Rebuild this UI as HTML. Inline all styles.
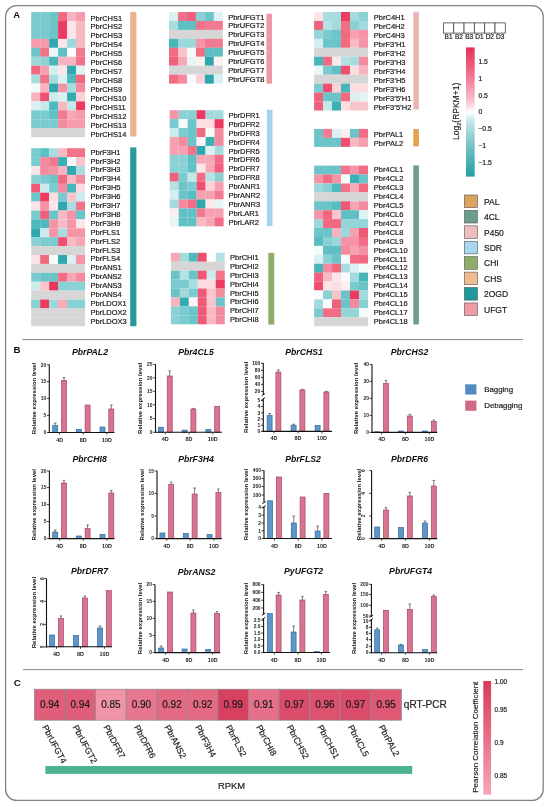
<!DOCTYPE html>
<html><head><meta charset="utf-8"><title>Figure</title><style>html,body{margin:0;padding:0;background:#fff;}body{width:550px;height:807px;overflow:hidden;font-family:"Liberation Sans", sans-serif;}svg{display:block;will-change:transform;}</style></head><body>
<svg width="550" height="807" viewBox="0 0 550 807" font-family='"Liberation Sans", sans-serif'>
<rect x="0" y="0" width="550" height="807" fill="#ffffff"/>
<rect x="5.6" y="5.6" width="537.6" height="794.8" rx="11" ry="11" fill="none" stroke="#838383" stroke-width="1.3"/>
<text x="13.2" y="17.9" font-size="9.4" font-weight="bold" fill="#111">A</text>
<rect x="31.2" y="12.1" width="9.02" height="8.98" fill="#7acbcf"/>
<rect x="40.17" y="12.1" width="9.02" height="8.98" fill="#7acbcf"/>
<rect x="49.14" y="12.1" width="9.02" height="8.98" fill="#6ac4c8"/>
<rect x="58.11" y="12.1" width="9.02" height="8.98" fill="#f2687f"/>
<rect x="67.08" y="12.1" width="9.02" height="8.98" fill="#f8b3bf"/>
<rect x="76.05" y="12.1" width="9.02" height="8.98" fill="#f69aac"/>
<text x="90.5" y="20.5" font-size="7.5" fill="#1a1a1a" stroke="#1a1a1a" stroke-width="0.2">PbrCHS1</text>
<rect x="31.2" y="21.03" width="9.02" height="8.98" fill="#7acbcf"/>
<rect x="40.17" y="21.03" width="9.02" height="8.98" fill="#7acbcf"/>
<rect x="49.14" y="21.03" width="9.02" height="8.98" fill="#6ac4c8"/>
<rect x="58.11" y="21.03" width="9.02" height="8.98" fill="#ec3a60"/>
<rect x="67.08" y="21.03" width="9.02" height="8.98" fill="#fde4e8"/>
<rect x="76.05" y="21.03" width="9.02" height="8.98" fill="#f8b9c3"/>
<text x="90.5" y="29.43" font-size="7.5" fill="#1a1a1a" stroke="#1a1a1a" stroke-width="0.2">PbrCHS2</text>
<rect x="31.2" y="29.96" width="9.02" height="8.98" fill="#7acbcf"/>
<rect x="40.17" y="29.96" width="9.02" height="8.98" fill="#7acbcf"/>
<rect x="49.14" y="29.96" width="9.02" height="8.98" fill="#6ac4c8"/>
<rect x="58.11" y="29.96" width="9.02" height="8.98" fill="#ec3a60"/>
<rect x="67.08" y="29.96" width="9.02" height="8.98" fill="#fde4e8"/>
<rect x="76.05" y="29.96" width="9.02" height="8.98" fill="#f8b9c3"/>
<text x="90.5" y="38.36" font-size="7.5" fill="#1a1a1a" stroke="#1a1a1a" stroke-width="0.2">PbrCHS3</text>
<rect x="31.2" y="38.89" width="9.02" height="8.98" fill="#f69aac"/>
<rect x="40.17" y="38.89" width="9.02" height="8.98" fill="#f69aac"/>
<rect x="49.14" y="38.89" width="9.02" height="8.98" fill="#2ea8ae"/>
<rect x="58.11" y="38.89" width="9.02" height="8.98" fill="#fde4e8"/>
<rect x="67.08" y="38.89" width="9.02" height="8.98" fill="#9cd7da"/>
<rect x="76.05" y="38.89" width="9.02" height="8.98" fill="#f8b9c3"/>
<text x="90.5" y="47.29" font-size="7.5" fill="#1a1a1a" stroke="#1a1a1a" stroke-width="0.2">PbrCHS4</text>
<rect x="31.2" y="47.82" width="9.02" height="8.98" fill="#6ac4c8"/>
<rect x="40.17" y="47.82" width="9.02" height="8.98" fill="#f2728a"/>
<rect x="49.14" y="47.82" width="9.02" height="8.98" fill="#eaf7f8"/>
<rect x="58.11" y="47.82" width="9.02" height="8.98" fill="#5ec0c5"/>
<rect x="67.08" y="47.82" width="9.02" height="8.98" fill="#fdfdfd"/>
<rect x="76.05" y="47.82" width="9.02" height="8.98" fill="#f27a90"/>
<text x="90.5" y="56.22" font-size="7.5" fill="#1a1a1a" stroke="#1a1a1a" stroke-width="0.2">PbrCHS5</text>
<rect x="31.2" y="56.75" width="9.02" height="8.98" fill="#9cd7da"/>
<rect x="40.17" y="56.75" width="9.02" height="8.98" fill="#8fd3d6"/>
<rect x="49.14" y="56.75" width="9.02" height="8.98" fill="#46b6bb"/>
<rect x="58.11" y="56.75" width="9.02" height="8.98" fill="#f8b3bf"/>
<rect x="67.08" y="56.75" width="9.02" height="8.98" fill="#f8b3bf"/>
<rect x="76.05" y="56.75" width="9.02" height="8.98" fill="#f2728a"/>
<text x="90.5" y="65.15" font-size="7.5" fill="#1a1a1a" stroke="#1a1a1a" stroke-width="0.2">PbrCHS6</text>
<rect x="31.2" y="65.68" width="9.02" height="8.98" fill="#f2687f"/>
<rect x="40.17" y="65.68" width="9.02" height="8.98" fill="#f6a0b0"/>
<rect x="49.14" y="65.68" width="9.02" height="8.98" fill="#d3eef0"/>
<rect x="58.11" y="65.68" width="9.02" height="8.98" fill="#fde4e8"/>
<rect x="67.08" y="65.68" width="9.02" height="8.98" fill="#2ea8ae"/>
<rect x="76.05" y="65.68" width="9.02" height="8.98" fill="#dff3f4"/>
<text x="90.5" y="74.08" font-size="7.5" fill="#1a1a1a" stroke="#1a1a1a" stroke-width="0.2">PbrCHS7</text>
<rect x="31.2" y="74.61" width="9.02" height="8.98" fill="#a8dde0"/>
<rect x="40.17" y="74.61" width="9.02" height="8.98" fill="#f2728a"/>
<rect x="49.14" y="74.61" width="9.02" height="8.98" fill="#a8dde0"/>
<rect x="58.11" y="74.61" width="9.02" height="8.98" fill="#daf0f1"/>
<rect x="67.08" y="74.61" width="9.02" height="8.98" fill="#4fb9be"/>
<rect x="76.05" y="74.61" width="9.02" height="8.98" fill="#f2687f"/>
<text x="90.5" y="83.01" font-size="7.5" fill="#1a1a1a" stroke="#1a1a1a" stroke-width="0.2">PbrCHS8</text>
<rect x="31.2" y="83.54" width="9.02" height="8.98" fill="#f5fbfb"/>
<rect x="40.17" y="83.54" width="9.02" height="8.98" fill="#f8b3bf"/>
<rect x="49.14" y="83.54" width="9.02" height="8.98" fill="#2ea8ae"/>
<rect x="58.11" y="83.54" width="9.02" height="8.98" fill="#f594a7"/>
<rect x="67.08" y="83.54" width="9.02" height="8.98" fill="#a8dde0"/>
<rect x="76.05" y="83.54" width="9.02" height="8.98" fill="#f38a9e"/>
<text x="90.5" y="91.94" font-size="7.5" fill="#1a1a1a" stroke="#1a1a1a" stroke-width="0.2">PbrCHS9</text>
<rect x="31.2" y="92.47" width="9.02" height="8.98" fill="#f8b3bf"/>
<rect x="40.17" y="92.47" width="9.02" height="8.98" fill="#ee4e70"/>
<rect x="49.14" y="92.47" width="9.02" height="8.98" fill="#cbebed"/>
<rect x="58.11" y="92.47" width="9.02" height="8.98" fill="#daf0f1"/>
<rect x="67.08" y="92.47" width="9.02" height="8.98" fill="#35acb1"/>
<rect x="76.05" y="92.47" width="9.02" height="8.98" fill="#fbd2d9"/>
<text x="90.5" y="100.87" font-size="7.5" fill="#1a1a1a" stroke="#1a1a1a" stroke-width="0.2">PbrCHS10</text>
<rect x="31.2" y="101.4" width="9.02" height="8.98" fill="#daf0f1"/>
<rect x="40.17" y="101.4" width="9.02" height="8.98" fill="#c7e8ea"/>
<rect x="49.14" y="101.4" width="9.02" height="8.98" fill="#4fb9be"/>
<rect x="58.11" y="101.4" width="9.02" height="8.98" fill="#f8b9c3"/>
<rect x="67.08" y="101.4" width="9.02" height="8.98" fill="#c7e8ea"/>
<rect x="76.05" y="101.4" width="9.02" height="8.98" fill="#ec3a60"/>
<text x="90.5" y="109.8" font-size="7.5" fill="#1a1a1a" stroke="#1a1a1a" stroke-width="0.2">PbrCHS11</text>
<rect x="31.2" y="110.33" width="9.02" height="8.98" fill="#7acbcf"/>
<rect x="40.17" y="110.33" width="9.02" height="8.98" fill="#7acbcf"/>
<rect x="49.14" y="110.33" width="9.02" height="8.98" fill="#5ec0c5"/>
<rect x="58.11" y="110.33" width="9.02" height="8.98" fill="#f27a90"/>
<rect x="67.08" y="110.33" width="9.02" height="8.98" fill="#f7a6b4"/>
<rect x="76.05" y="110.33" width="9.02" height="8.98" fill="#f69aac"/>
<text x="90.5" y="118.73" font-size="7.5" fill="#1a1a1a" stroke="#1a1a1a" stroke-width="0.2">PbrCHS12</text>
<rect x="31.2" y="119.26" width="9.02" height="8.98" fill="#7acbcf"/>
<rect x="40.17" y="119.26" width="9.02" height="8.98" fill="#7acbcf"/>
<rect x="49.14" y="119.26" width="9.02" height="8.98" fill="#7acbcf"/>
<rect x="58.11" y="119.26" width="9.02" height="8.98" fill="#f38a9e"/>
<rect x="67.08" y="119.26" width="9.02" height="8.98" fill="#f69aac"/>
<rect x="76.05" y="119.26" width="9.02" height="8.98" fill="#f69aac"/>
<text x="90.5" y="127.66" font-size="7.5" fill="#1a1a1a" stroke="#1a1a1a" stroke-width="0.2">PbrCHS13</text>
<rect x="31.2" y="128.19" width="53.82" height="8.98" fill="#d6d6d6"/>
<text x="90.5" y="136.59" font-size="7.5" fill="#1a1a1a" stroke="#1a1a1a" stroke-width="0.2">PbrCHS14</text>
<rect x="130.2" y="12" width="6.2" height="124.5" fill="#ebb48e"/>
<rect x="31.2" y="148.2" width="9.02" height="8.95" fill="#7acbcf"/>
<rect x="40.17" y="148.2" width="9.02" height="8.95" fill="#5ec0c5"/>
<rect x="49.14" y="148.2" width="9.02" height="8.95" fill="#a8dde0"/>
<rect x="58.11" y="148.2" width="9.02" height="8.95" fill="#f8b9c3"/>
<rect x="67.08" y="148.2" width="9.02" height="8.95" fill="#f2728a"/>
<rect x="76.05" y="148.2" width="9.02" height="8.95" fill="#f2728a"/>
<text x="90.5" y="154.6" font-size="7.5" fill="#1a1a1a" stroke="#1a1a1a" stroke-width="0.2">PbrF3H1</text>
<rect x="31.2" y="157.1" width="9.02" height="8.95" fill="#7acbcf"/>
<rect x="40.17" y="157.1" width="9.02" height="8.95" fill="#f38a9e"/>
<rect x="49.14" y="157.1" width="9.02" height="8.95" fill="#f27a90"/>
<rect x="58.11" y="157.1" width="9.02" height="8.95" fill="#3aafb4"/>
<rect x="67.08" y="157.1" width="9.02" height="8.95" fill="#f5fbfb"/>
<rect x="76.05" y="157.1" width="9.02" height="8.95" fill="#fac4cd"/>
<text x="90.5" y="163.5" font-size="7.5" fill="#1a1a1a" stroke="#1a1a1a" stroke-width="0.2">PbrF3H2</text>
<rect x="31.2" y="166" width="9.02" height="8.95" fill="#fde4e8"/>
<rect x="40.17" y="166" width="9.02" height="8.95" fill="#f38a9e"/>
<rect x="49.14" y="166" width="9.02" height="8.95" fill="#f594a7"/>
<rect x="58.11" y="166" width="9.02" height="8.95" fill="#f8b3bf"/>
<rect x="67.08" y="166" width="9.02" height="8.95" fill="#2ea8ae"/>
<rect x="76.05" y="166" width="9.02" height="8.95" fill="#a8dde0"/>
<text x="90.5" y="172.4" font-size="7.5" fill="#1a1a1a" stroke="#1a1a1a" stroke-width="0.2">PbrF3H3</text>
<rect x="31.2" y="174.9" width="9.02" height="8.95" fill="#8ad1d4"/>
<rect x="40.17" y="174.9" width="9.02" height="8.95" fill="#7acbcf"/>
<rect x="49.14" y="174.9" width="9.02" height="8.95" fill="#6ac4c8"/>
<rect x="58.11" y="174.9" width="9.02" height="8.95" fill="#f2687f"/>
<rect x="67.08" y="174.9" width="9.02" height="8.95" fill="#f8b9c3"/>
<rect x="76.05" y="174.9" width="9.02" height="8.95" fill="#f38a9e"/>
<text x="90.5" y="181.3" font-size="7.5" fill="#1a1a1a" stroke="#1a1a1a" stroke-width="0.2">PbrF3H4</text>
<rect x="31.2" y="183.8" width="9.02" height="8.95" fill="#f05877"/>
<rect x="40.17" y="183.8" width="9.02" height="8.95" fill="#cbebed"/>
<rect x="49.14" y="183.8" width="9.02" height="8.95" fill="#7acbcf"/>
<rect x="58.11" y="183.8" width="9.02" height="8.95" fill="#f38a9e"/>
<rect x="67.08" y="183.8" width="9.02" height="8.95" fill="#46b6bb"/>
<rect x="76.05" y="183.8" width="9.02" height="8.95" fill="#fcdbe0"/>
<text x="90.5" y="190.2" font-size="7.5" fill="#1a1a1a" stroke="#1a1a1a" stroke-width="0.2">PbrF3H5</text>
<rect x="31.2" y="192.7" width="9.02" height="8.95" fill="#6ac4c8"/>
<rect x="40.17" y="192.7" width="9.02" height="8.95" fill="#ec3a60"/>
<rect x="49.14" y="192.7" width="9.02" height="8.95" fill="#fcdde2"/>
<rect x="58.11" y="192.7" width="9.02" height="8.95" fill="#7acbcf"/>
<rect x="67.08" y="192.7" width="9.02" height="8.95" fill="#fac4cd"/>
<rect x="76.05" y="192.7" width="9.02" height="8.95" fill="#cbebed"/>
<text x="90.5" y="199.1" font-size="7.5" fill="#1a1a1a" stroke="#1a1a1a" stroke-width="0.2">PbrF3H6</text>
<rect x="31.2" y="201.6" width="9.02" height="8.95" fill="#fde4e8"/>
<rect x="40.17" y="201.6" width="9.02" height="8.95" fill="#f594a7"/>
<rect x="49.14" y="201.6" width="9.02" height="8.95" fill="#fde4e8"/>
<rect x="58.11" y="201.6" width="9.02" height="8.95" fill="#2ea8ae"/>
<rect x="67.08" y="201.6" width="9.02" height="8.95" fill="#a8dde0"/>
<rect x="76.05" y="201.6" width="9.02" height="8.95" fill="#f2728a"/>
<text x="90.5" y="208" font-size="7.5" fill="#1a1a1a" stroke="#1a1a1a" stroke-width="0.2">PbrF3H7</text>
<rect x="31.2" y="210.5" width="9.02" height="8.95" fill="#7acbcf"/>
<rect x="40.17" y="210.5" width="9.02" height="8.95" fill="#f0607c"/>
<rect x="49.14" y="210.5" width="9.02" height="8.95" fill="#6ac4c8"/>
<rect x="58.11" y="210.5" width="9.02" height="8.95" fill="#f8b9c3"/>
<rect x="67.08" y="210.5" width="9.02" height="8.95" fill="#f594a7"/>
<rect x="76.05" y="210.5" width="9.02" height="8.95" fill="#6ac4c8"/>
<text x="90.5" y="216.9" font-size="7.5" fill="#1a1a1a" stroke="#1a1a1a" stroke-width="0.2">PbrF3H8</text>
<rect x="31.2" y="219.4" width="9.02" height="8.95" fill="#4fb9be"/>
<rect x="40.17" y="219.4" width="9.02" height="8.95" fill="#4fb9be"/>
<rect x="49.14" y="219.4" width="9.02" height="8.95" fill="#f594a7"/>
<rect x="58.11" y="219.4" width="9.02" height="8.95" fill="#f8b9c3"/>
<rect x="67.08" y="219.4" width="9.02" height="8.95" fill="#f594a7"/>
<rect x="76.05" y="219.4" width="9.02" height="8.95" fill="#fde4e8"/>
<text x="90.5" y="225.8" font-size="7.5" fill="#1a1a1a" stroke="#1a1a1a" stroke-width="0.2">PbrF3H9</text>
<rect x="31.2" y="228.3" width="9.02" height="8.95" fill="#2ea8ae"/>
<rect x="40.17" y="228.3" width="9.02" height="8.95" fill="#cbebed"/>
<rect x="49.14" y="228.3" width="9.02" height="8.95" fill="#f594a7"/>
<rect x="58.11" y="228.3" width="9.02" height="8.95" fill="#a8dde0"/>
<rect x="67.08" y="228.3" width="9.02" height="8.95" fill="#f594a7"/>
<rect x="76.05" y="228.3" width="9.02" height="8.95" fill="#f594a7"/>
<text x="90.5" y="234.7" font-size="7.5" fill="#1a1a1a" stroke="#1a1a1a" stroke-width="0.2">PbrFLS1</text>
<rect x="31.2" y="237.2" width="9.02" height="8.95" fill="#8ad1d4"/>
<rect x="40.17" y="237.2" width="9.02" height="8.95" fill="#7acbcf"/>
<rect x="49.14" y="237.2" width="9.02" height="8.95" fill="#7acbcf"/>
<rect x="58.11" y="237.2" width="9.02" height="8.95" fill="#ee4e70"/>
<rect x="67.08" y="237.2" width="9.02" height="8.95" fill="#f8b9c3"/>
<rect x="76.05" y="237.2" width="9.02" height="8.95" fill="#f7a6b4"/>
<text x="90.5" y="243.6" font-size="7.5" fill="#1a1a1a" stroke="#1a1a1a" stroke-width="0.2">PbrFLS2</text>
<rect x="31.2" y="246.1" width="53.82" height="8.95" fill="#d6d6d6"/>
<text x="90.5" y="252.5" font-size="7.5" fill="#1a1a1a" stroke="#1a1a1a" stroke-width="0.2">PbrFLS3</text>
<rect x="31.2" y="255" width="9.02" height="8.95" fill="#fde4e8"/>
<rect x="40.17" y="255" width="9.02" height="8.95" fill="#f2687f"/>
<rect x="49.14" y="255" width="9.02" height="8.95" fill="#f5fbfb"/>
<rect x="58.11" y="255" width="9.02" height="8.95" fill="#2ea8ae"/>
<rect x="67.08" y="255" width="9.02" height="8.95" fill="#daf0f1"/>
<rect x="76.05" y="255" width="9.02" height="8.95" fill="#f594a7"/>
<text x="90.5" y="261.4" font-size="7.5" fill="#1a1a1a" stroke="#1a1a1a" stroke-width="0.2">PbrFLS4</text>
<rect x="31.2" y="263.9" width="53.82" height="8.95" fill="#d6d6d6"/>
<text x="90.5" y="270.3" font-size="7.5" fill="#1a1a1a" stroke="#1a1a1a" stroke-width="0.2">PbrANS1</text>
<rect x="31.2" y="272.8" width="9.02" height="8.95" fill="#7acbcf"/>
<rect x="40.17" y="272.8" width="9.02" height="8.95" fill="#6ac4c8"/>
<rect x="49.14" y="272.8" width="9.02" height="8.95" fill="#6ac4c8"/>
<rect x="58.11" y="272.8" width="9.02" height="8.95" fill="#f26c84"/>
<rect x="67.08" y="272.8" width="9.02" height="8.95" fill="#f7a6b4"/>
<rect x="76.05" y="272.8" width="9.02" height="8.95" fill="#f38a9e"/>
<text x="90.5" y="279.2" font-size="7.5" fill="#1a1a1a" stroke="#1a1a1a" stroke-width="0.2">PbrANS2</text>
<rect x="31.2" y="281.7" width="9.02" height="8.95" fill="#cbebed"/>
<rect x="40.17" y="281.7" width="9.02" height="8.95" fill="#fac4cd"/>
<rect x="49.14" y="281.7" width="9.02" height="8.95" fill="#ea3358"/>
<rect x="58.11" y="281.7" width="9.02" height="8.95" fill="#8ad1d4"/>
<rect x="67.08" y="281.7" width="9.02" height="8.95" fill="#8ad1d4"/>
<rect x="76.05" y="281.7" width="9.02" height="8.95" fill="#8ad1d4"/>
<text x="90.5" y="288.1" font-size="7.5" fill="#1a1a1a" stroke="#1a1a1a" stroke-width="0.2">PbrANS3</text>
<rect x="31.2" y="290.6" width="53.82" height="8.95" fill="#d6d6d6"/>
<text x="90.5" y="297" font-size="7.5" fill="#1a1a1a" stroke="#1a1a1a" stroke-width="0.2">PbrANS4</text>
<rect x="31.2" y="299.5" width="9.02" height="8.95" fill="#8ad1d4"/>
<rect x="40.17" y="299.5" width="9.02" height="8.95" fill="#ec3a60"/>
<rect x="49.14" y="299.5" width="9.02" height="8.95" fill="#9cd7da"/>
<rect x="58.11" y="299.5" width="9.02" height="8.95" fill="#f8aab6"/>
<rect x="67.08" y="299.5" width="9.02" height="8.95" fill="#8ad1d4"/>
<rect x="76.05" y="299.5" width="9.02" height="8.95" fill="#8ad1d4"/>
<text x="90.5" y="305.9" font-size="7.5" fill="#1a1a1a" stroke="#1a1a1a" stroke-width="0.2">PbrLDOX1</text>
<rect x="31.2" y="308.4" width="53.82" height="8.95" fill="#d6d6d6"/>
<text x="90.5" y="314.8" font-size="7.5" fill="#1a1a1a" stroke="#1a1a1a" stroke-width="0.2">PbrLDOX2</text>
<rect x="31.2" y="317.3" width="53.82" height="8.95" fill="#d6d6d6"/>
<text x="90.5" y="323.7" font-size="7.5" fill="#1a1a1a" stroke="#1a1a1a" stroke-width="0.2">PbrLDOX3</text>
<rect x="130.2" y="147.4" width="6.2" height="178.8" fill="#27999b"/>
<rect x="169" y="12" width="9.02" height="9" fill="#daf0f1"/>
<rect x="177.97" y="12" width="9.02" height="9" fill="#f2728a"/>
<rect x="186.94" y="12" width="9.02" height="9" fill="#f0607c"/>
<rect x="195.91" y="12" width="9.02" height="9" fill="#8ad1d4"/>
<rect x="204.88" y="12" width="9.02" height="9" fill="#6ac4c8"/>
<rect x="213.85" y="12" width="9.02" height="9" fill="#dff3f4"/>
<text x="228.2" y="19.5" font-size="7.5" fill="#1a1a1a" stroke="#1a1a1a" stroke-width="0.2">PbrUFGT1</text>
<rect x="169" y="20.95" width="9.02" height="9" fill="#a8dde0"/>
<rect x="177.97" y="20.95" width="9.02" height="9" fill="#5ec0c5"/>
<rect x="186.94" y="20.95" width="9.02" height="9" fill="#5ec0c5"/>
<rect x="195.91" y="20.95" width="9.02" height="9" fill="#f2728a"/>
<rect x="204.88" y="20.95" width="9.02" height="9" fill="#f27a90"/>
<rect x="213.85" y="20.95" width="9.02" height="9" fill="#f27a90"/>
<text x="228.2" y="28.45" font-size="7.5" fill="#1a1a1a" stroke="#1a1a1a" stroke-width="0.2">PbrUFGT2</text>
<rect x="169" y="29.9" width="53.82" height="9" fill="#d6d6d6"/>
<text x="228.2" y="37.4" font-size="7.5" fill="#1a1a1a" stroke="#1a1a1a" stroke-width="0.2">PbrUFGT3</text>
<rect x="169" y="38.85" width="9.02" height="9" fill="#46b6bb"/>
<rect x="177.97" y="38.85" width="9.02" height="9" fill="#9cd7da"/>
<rect x="186.94" y="38.85" width="9.02" height="9" fill="#9cd7da"/>
<rect x="195.91" y="38.85" width="9.02" height="9" fill="#f594a7"/>
<rect x="204.88" y="38.85" width="9.02" height="9" fill="#f27a90"/>
<rect x="213.85" y="38.85" width="9.02" height="9" fill="#f27a90"/>
<text x="228.2" y="46.35" font-size="7.5" fill="#1a1a1a" stroke="#1a1a1a" stroke-width="0.2">PbrUFGT4</text>
<rect x="169" y="47.8" width="9.02" height="9" fill="#f26c84"/>
<rect x="177.97" y="47.8" width="9.02" height="9" fill="#fac4cd"/>
<rect x="186.94" y="47.8" width="9.02" height="9" fill="#f5fbfb"/>
<rect x="195.91" y="47.8" width="9.02" height="9" fill="#f26c84"/>
<rect x="204.88" y="47.8" width="9.02" height="9" fill="#5ec0c5"/>
<rect x="213.85" y="47.8" width="9.02" height="9" fill="#5ec0c5"/>
<text x="228.2" y="55.3" font-size="7.5" fill="#1a1a1a" stroke="#1a1a1a" stroke-width="0.2">PbrUFGT5</text>
<rect x="169" y="56.75" width="9.02" height="9" fill="#f0607c"/>
<rect x="177.97" y="56.75" width="9.02" height="9" fill="#f7a6b4"/>
<rect x="186.94" y="56.75" width="9.02" height="9" fill="#e5f5f6"/>
<rect x="195.91" y="56.75" width="9.02" height="9" fill="#fdeef0"/>
<rect x="204.88" y="56.75" width="9.02" height="9" fill="#2ea8ae"/>
<rect x="213.85" y="56.75" width="9.02" height="9" fill="#fdf2f4"/>
<text x="228.2" y="64.25" font-size="7.5" fill="#1a1a1a" stroke="#1a1a1a" stroke-width="0.2">PbrUFGT6</text>
<rect x="169" y="65.7" width="53.82" height="9" fill="#d6d6d6"/>
<text x="228.2" y="73.2" font-size="7.5" fill="#1a1a1a" stroke="#1a1a1a" stroke-width="0.2">PbrUFGT7</text>
<rect x="169" y="74.65" width="9.02" height="9" fill="#f26c84"/>
<rect x="177.97" y="74.65" width="9.02" height="9" fill="#f38a9e"/>
<rect x="186.94" y="74.65" width="9.02" height="9" fill="#f5fbfb"/>
<rect x="195.91" y="74.65" width="9.02" height="9" fill="#fbd2d9"/>
<rect x="204.88" y="74.65" width="9.02" height="9" fill="#2ea8ae"/>
<rect x="213.85" y="74.65" width="9.02" height="9" fill="#daf0f1"/>
<text x="228.2" y="82.15" font-size="7.5" fill="#1a1a1a" stroke="#1a1a1a" stroke-width="0.2">PbrUFGT8</text>
<rect x="266.4" y="13.8" width="5.6" height="69.8" fill="#eb9aa4"/>
<rect x="169.7" y="110.2" width="9.02" height="8.98" fill="#f594a7"/>
<rect x="178.67" y="110.2" width="9.02" height="8.98" fill="#8ad1d4"/>
<rect x="187.64" y="110.2" width="9.02" height="8.98" fill="#8ad1d4"/>
<rect x="196.61" y="110.2" width="9.02" height="8.98" fill="#ec3a60"/>
<rect x="205.58" y="110.2" width="9.02" height="8.98" fill="#a3dadd"/>
<rect x="214.55" y="110.2" width="9.02" height="8.98" fill="#a3dadd"/>
<text x="228.4" y="117.8" font-size="7.5" fill="#1a1a1a" stroke="#1a1a1a" stroke-width="0.2">PbrDFR1</text>
<rect x="169.7" y="119.13" width="9.02" height="8.98" fill="#7acbcf"/>
<rect x="178.67" y="119.13" width="9.02" height="8.98" fill="#f5fbfb"/>
<rect x="187.64" y="119.13" width="9.02" height="8.98" fill="#6ac4c8"/>
<rect x="196.61" y="119.13" width="9.02" height="8.98" fill="#fcdde2"/>
<rect x="205.58" y="119.13" width="9.02" height="8.98" fill="#fcdde2"/>
<rect x="214.55" y="119.13" width="9.02" height="8.98" fill="#ec3a60"/>
<text x="228.4" y="126.73" font-size="7.5" fill="#1a1a1a" stroke="#1a1a1a" stroke-width="0.2">PbrDFR2</text>
<rect x="169.7" y="128.06" width="9.02" height="8.98" fill="#cbebed"/>
<rect x="178.67" y="128.06" width="9.02" height="8.98" fill="#7acbcf"/>
<rect x="187.64" y="128.06" width="9.02" height="8.98" fill="#6ac4c8"/>
<rect x="196.61" y="128.06" width="9.02" height="8.98" fill="#f2687f"/>
<rect x="205.58" y="128.06" width="9.02" height="8.98" fill="#f5fbfb"/>
<rect x="214.55" y="128.06" width="9.02" height="8.98" fill="#f38a9e"/>
<text x="228.4" y="135.66" font-size="7.5" fill="#1a1a1a" stroke="#1a1a1a" stroke-width="0.2">PbrDFR3</text>
<rect x="169.7" y="136.99" width="9.02" height="8.98" fill="#f6a0b0"/>
<rect x="178.67" y="136.99" width="9.02" height="8.98" fill="#f38a9e"/>
<rect x="187.64" y="136.99" width="9.02" height="8.98" fill="#6ac4c8"/>
<rect x="196.61" y="136.99" width="9.02" height="8.98" fill="#fdf2f4"/>
<rect x="205.58" y="136.99" width="9.02" height="8.98" fill="#3aafb4"/>
<rect x="214.55" y="136.99" width="9.02" height="8.98" fill="#f38a9e"/>
<text x="228.4" y="144.59" font-size="7.5" fill="#1a1a1a" stroke="#1a1a1a" stroke-width="0.2">PbrDFR4</text>
<rect x="169.7" y="145.92" width="9.02" height="8.98" fill="#f6a0b0"/>
<rect x="178.67" y="145.92" width="9.02" height="8.98" fill="#f6a0b0"/>
<rect x="187.64" y="145.92" width="9.02" height="8.98" fill="#f2728a"/>
<rect x="196.61" y="145.92" width="9.02" height="8.98" fill="#2ea8ae"/>
<rect x="205.58" y="145.92" width="9.02" height="8.98" fill="#daf0f1"/>
<rect x="214.55" y="145.92" width="9.02" height="8.98" fill="#a8dde0"/>
<text x="228.4" y="153.52" font-size="7.5" fill="#1a1a1a" stroke="#1a1a1a" stroke-width="0.2">PbrDFR5</text>
<rect x="169.7" y="154.85" width="9.02" height="8.98" fill="#8ad1d4"/>
<rect x="178.67" y="154.85" width="9.02" height="8.98" fill="#8ad1d4"/>
<rect x="187.64" y="154.85" width="9.02" height="8.98" fill="#5ec0c5"/>
<rect x="196.61" y="154.85" width="9.02" height="8.98" fill="#f7a6b4"/>
<rect x="205.58" y="154.85" width="9.02" height="8.98" fill="#f7a6b4"/>
<rect x="214.55" y="154.85" width="9.02" height="8.98" fill="#f26c84"/>
<text x="228.4" y="162.45" font-size="7.5" fill="#1a1a1a" stroke="#1a1a1a" stroke-width="0.2">PbrDFR6</text>
<rect x="169.7" y="163.78" width="9.02" height="8.98" fill="#8ad1d4"/>
<rect x="178.67" y="163.78" width="9.02" height="8.98" fill="#8ad1d4"/>
<rect x="187.64" y="163.78" width="9.02" height="8.98" fill="#5ec0c5"/>
<rect x="196.61" y="163.78" width="9.02" height="8.98" fill="#fde4e8"/>
<rect x="205.58" y="163.78" width="9.02" height="8.98" fill="#f7a6b4"/>
<rect x="214.55" y="163.78" width="9.02" height="8.98" fill="#f0607c"/>
<text x="228.4" y="171.38" font-size="7.5" fill="#1a1a1a" stroke="#1a1a1a" stroke-width="0.2">PbrDFR7</text>
<rect x="169.7" y="172.71" width="9.02" height="8.98" fill="#f0607c"/>
<rect x="178.67" y="172.71" width="9.02" height="8.98" fill="#7acbcf"/>
<rect x="187.64" y="172.71" width="9.02" height="8.98" fill="#c7e8ea"/>
<rect x="196.61" y="172.71" width="9.02" height="8.98" fill="#f26c84"/>
<rect x="205.58" y="172.71" width="9.02" height="8.98" fill="#b5e2e5"/>
<rect x="214.55" y="172.71" width="9.02" height="8.98" fill="#8ad1d4"/>
<text x="228.4" y="180.31" font-size="7.5" fill="#1a1a1a" stroke="#1a1a1a" stroke-width="0.2">PbrDFR8</text>
<rect x="169.7" y="181.64" width="9.02" height="8.98" fill="#b5e2e5"/>
<rect x="178.67" y="181.64" width="9.02" height="8.98" fill="#6ac4c8"/>
<rect x="187.64" y="181.64" width="9.02" height="8.98" fill="#7acbcf"/>
<rect x="196.61" y="181.64" width="9.02" height="8.98" fill="#ee4e70"/>
<rect x="205.58" y="181.64" width="9.02" height="8.98" fill="#fbd2d9"/>
<rect x="214.55" y="181.64" width="9.02" height="8.98" fill="#f6a0b0"/>
<text x="228.4" y="189.24" font-size="7.5" fill="#1a1a1a" stroke="#1a1a1a" stroke-width="0.2">PbrANR1</text>
<rect x="169.7" y="190.57" width="9.02" height="8.98" fill="#d3eef0"/>
<rect x="178.67" y="190.57" width="9.02" height="8.98" fill="#6ac4c8"/>
<rect x="187.64" y="190.57" width="9.02" height="8.98" fill="#58bdc2"/>
<rect x="196.61" y="190.57" width="9.02" height="8.98" fill="#f6a0b0"/>
<rect x="205.58" y="190.57" width="9.02" height="8.98" fill="#f6a0b0"/>
<rect x="214.55" y="190.57" width="9.02" height="8.98" fill="#f27a90"/>
<text x="228.4" y="198.17" font-size="7.5" fill="#1a1a1a" stroke="#1a1a1a" stroke-width="0.2">PbrANR2</text>
<rect x="169.7" y="199.5" width="9.02" height="8.98" fill="#a3dadd"/>
<rect x="178.67" y="199.5" width="9.02" height="8.98" fill="#f38a9e"/>
<rect x="187.64" y="199.5" width="9.02" height="8.98" fill="#f26c84"/>
<rect x="196.61" y="199.5" width="9.02" height="8.98" fill="#2ea8ae"/>
<rect x="205.58" y="199.5" width="9.02" height="8.98" fill="#fde8ec"/>
<rect x="214.55" y="199.5" width="9.02" height="8.98" fill="#e5f5f6"/>
<text x="228.4" y="207.1" font-size="7.5" fill="#1a1a1a" stroke="#1a1a1a" stroke-width="0.2">PbrANR3</text>
<rect x="169.7" y="208.43" width="9.02" height="8.98" fill="#fdeef0"/>
<rect x="178.67" y="208.43" width="9.02" height="8.98" fill="#5ec0c5"/>
<rect x="187.64" y="208.43" width="9.02" height="8.98" fill="#5ec0c5"/>
<rect x="196.61" y="208.43" width="9.02" height="8.98" fill="#f27a90"/>
<rect x="205.58" y="208.43" width="9.02" height="8.98" fill="#f6a0b0"/>
<rect x="214.55" y="208.43" width="9.02" height="8.98" fill="#f6a0b0"/>
<text x="228.4" y="216.03" font-size="7.5" fill="#1a1a1a" stroke="#1a1a1a" stroke-width="0.2">PbrLAR1</text>
<rect x="169.7" y="217.36" width="9.02" height="8.98" fill="#e5f5f6"/>
<rect x="178.67" y="217.36" width="9.02" height="8.98" fill="#5ec0c5"/>
<rect x="187.64" y="217.36" width="9.02" height="8.98" fill="#5ec0c5"/>
<rect x="196.61" y="217.36" width="9.02" height="8.98" fill="#f8b9c3"/>
<rect x="205.58" y="217.36" width="9.02" height="8.98" fill="#f7a6b4"/>
<rect x="214.55" y="217.36" width="9.02" height="8.98" fill="#f26c84"/>
<text x="228.4" y="224.96" font-size="7.5" fill="#1a1a1a" stroke="#1a1a1a" stroke-width="0.2">PbrLAR2</text>
<rect x="266.9" y="109.8" width="5.6" height="116.3" fill="#a4d2ec"/>
<rect x="170.9" y="252.8" width="9.02" height="8.98" fill="#f7a6b4"/>
<rect x="179.87" y="252.8" width="9.02" height="8.98" fill="#a3dadd"/>
<rect x="188.84" y="252.8" width="9.02" height="8.98" fill="#4fb9be"/>
<rect x="197.81" y="252.8" width="9.02" height="8.98" fill="#ee4e70"/>
<rect x="206.78" y="252.8" width="9.02" height="8.98" fill="#fdfdfd"/>
<rect x="215.75" y="252.8" width="9.02" height="8.98" fill="#b5e2e5"/>
<text x="230" y="259.8" font-size="7.5" fill="#1a1a1a" stroke="#1a1a1a" stroke-width="0.2">PbrCHI1</text>
<rect x="170.9" y="261.73" width="53.82" height="8.98" fill="#d6d6d6"/>
<text x="230" y="268.73" font-size="7.5" fill="#1a1a1a" stroke="#1a1a1a" stroke-width="0.2">PbrCHI2</text>
<rect x="170.9" y="270.66" width="9.02" height="8.98" fill="#6ac4c8"/>
<rect x="179.87" y="270.66" width="9.02" height="8.98" fill="#b5e2e5"/>
<rect x="188.84" y="270.66" width="9.02" height="8.98" fill="#6ac4c8"/>
<rect x="197.81" y="270.66" width="9.02" height="8.98" fill="#f05877"/>
<rect x="206.78" y="270.66" width="9.02" height="8.98" fill="#cbebed"/>
<rect x="215.75" y="270.66" width="9.02" height="8.98" fill="#f2728a"/>
<text x="230" y="277.66" font-size="7.5" fill="#1a1a1a" stroke="#1a1a1a" stroke-width="0.2">PbrCHI3</text>
<rect x="170.9" y="279.59" width="9.02" height="8.98" fill="#7acbcf"/>
<rect x="179.87" y="279.59" width="9.02" height="8.98" fill="#7acbcf"/>
<rect x="188.84" y="279.59" width="9.02" height="8.98" fill="#a8dde0"/>
<rect x="197.81" y="279.59" width="9.02" height="8.98" fill="#fcdbe0"/>
<rect x="206.78" y="279.59" width="9.02" height="8.98" fill="#fcdbe0"/>
<rect x="215.75" y="279.59" width="9.02" height="8.98" fill="#ec3a60"/>
<text x="230" y="286.59" font-size="7.5" fill="#1a1a1a" stroke="#1a1a1a" stroke-width="0.2">PbrCHI4</text>
<rect x="170.9" y="288.52" width="9.02" height="8.98" fill="#6ac4c8"/>
<rect x="179.87" y="288.52" width="9.02" height="8.98" fill="#a0d8dc"/>
<rect x="188.84" y="288.52" width="9.02" height="8.98" fill="#7acbcf"/>
<rect x="197.81" y="288.52" width="9.02" height="8.98" fill="#f05877"/>
<rect x="206.78" y="288.52" width="9.02" height="8.98" fill="#fac4cd"/>
<rect x="215.75" y="288.52" width="9.02" height="8.98" fill="#f38a9e"/>
<text x="230" y="295.52" font-size="7.5" fill="#1a1a1a" stroke="#1a1a1a" stroke-width="0.2">PbrCHI5</text>
<rect x="170.9" y="297.45" width="9.02" height="8.98" fill="#f8b3bf"/>
<rect x="179.87" y="297.45" width="9.02" height="8.98" fill="#35acb1"/>
<rect x="188.84" y="297.45" width="9.02" height="8.98" fill="#fdf2f4"/>
<rect x="197.81" y="297.45" width="9.02" height="8.98" fill="#f05877"/>
<rect x="206.78" y="297.45" width="9.02" height="8.98" fill="#fac4cd"/>
<rect x="215.75" y="297.45" width="9.02" height="8.98" fill="#6ac4c8"/>
<text x="230" y="304.45" font-size="7.5" fill="#1a1a1a" stroke="#1a1a1a" stroke-width="0.2">PbrCHI6</text>
<rect x="170.9" y="306.38" width="9.02" height="8.98" fill="#8ad1d4"/>
<rect x="179.87" y="306.38" width="9.02" height="8.98" fill="#7acbcf"/>
<rect x="188.84" y="306.38" width="9.02" height="8.98" fill="#6ac4c8"/>
<rect x="197.81" y="306.38" width="9.02" height="8.98" fill="#f05877"/>
<rect x="206.78" y="306.38" width="9.02" height="8.98" fill="#f8b9c3"/>
<rect x="215.75" y="306.38" width="9.02" height="8.98" fill="#f38a9e"/>
<text x="230" y="313.38" font-size="7.5" fill="#1a1a1a" stroke="#1a1a1a" stroke-width="0.2">PbrCHI7</text>
<rect x="170.9" y="315.31" width="9.02" height="8.98" fill="#8ad1d4"/>
<rect x="179.87" y="315.31" width="9.02" height="8.98" fill="#7acbcf"/>
<rect x="188.84" y="315.31" width="9.02" height="8.98" fill="#6ac4c8"/>
<rect x="197.81" y="315.31" width="9.02" height="8.98" fill="#f05877"/>
<rect x="206.78" y="315.31" width="9.02" height="8.98" fill="#f8b9c3"/>
<rect x="215.75" y="315.31" width="9.02" height="8.98" fill="#f38a9e"/>
<text x="230" y="322.31" font-size="7.5" fill="#1a1a1a" stroke="#1a1a1a" stroke-width="0.2">PbrCHI8</text>
<rect x="268.3" y="252.9" width="6" height="71.7" fill="#8fac6c"/>
<rect x="314.1" y="12" width="9.02" height="9" fill="#fde4e8"/>
<rect x="323.07" y="12" width="9.02" height="9" fill="#a8dde0"/>
<rect x="332.04" y="12" width="9.02" height="9" fill="#a8dde0"/>
<rect x="341.01" y="12" width="9.02" height="9" fill="#ec3a60"/>
<rect x="349.98" y="12" width="9.02" height="9" fill="#a3dadd"/>
<rect x="358.95" y="12" width="9.02" height="9" fill="#8ad1d4"/>
<text x="373.8" y="20" font-size="7.5" fill="#1a1a1a" stroke="#1a1a1a" stroke-width="0.2">PbrC4H1</text>
<rect x="314.1" y="20.95" width="9.02" height="9" fill="#f0607c"/>
<rect x="323.07" y="20.95" width="9.02" height="9" fill="#b5e2e5"/>
<rect x="332.04" y="20.95" width="9.02" height="9" fill="#a3dadd"/>
<rect x="341.01" y="20.95" width="9.02" height="9" fill="#f26c84"/>
<rect x="349.98" y="20.95" width="9.02" height="9" fill="#8ad1d4"/>
<rect x="358.95" y="20.95" width="9.02" height="9" fill="#a3dadd"/>
<text x="373.8" y="28.95" font-size="7.5" fill="#1a1a1a" stroke="#1a1a1a" stroke-width="0.2">PbrC4H2</text>
<rect x="314.1" y="29.9" width="9.02" height="9" fill="#94d5d8"/>
<rect x="323.07" y="29.9" width="9.02" height="9" fill="#7acbcf"/>
<rect x="332.04" y="29.9" width="9.02" height="9" fill="#6ac4c8"/>
<rect x="341.01" y="29.9" width="9.02" height="9" fill="#f2687f"/>
<rect x="349.98" y="29.9" width="9.02" height="9" fill="#f6a0b0"/>
<rect x="358.95" y="29.9" width="9.02" height="9" fill="#f594a7"/>
<text x="373.8" y="37.9" font-size="7.5" fill="#1a1a1a" stroke="#1a1a1a" stroke-width="0.2">PbrC4H3</text>
<rect x="314.1" y="38.85" width="9.02" height="9" fill="#d3eef0"/>
<rect x="323.07" y="38.85" width="9.02" height="9" fill="#6ac4c8"/>
<rect x="332.04" y="38.85" width="9.02" height="9" fill="#6ac4c8"/>
<rect x="341.01" y="38.85" width="9.02" height="9" fill="#f2687f"/>
<rect x="349.98" y="38.85" width="9.02" height="9" fill="#f8b9c3"/>
<rect x="358.95" y="38.85" width="9.02" height="9" fill="#f594a7"/>
<text x="373.8" y="46.85" font-size="7.5" fill="#1a1a1a" stroke="#1a1a1a" stroke-width="0.2">PbrF3&#8217;H1</text>
<rect x="314.1" y="47.8" width="53.82" height="9" fill="#d6d6d6"/>
<text x="373.8" y="55.8" font-size="7.5" fill="#1a1a1a" stroke="#1a1a1a" stroke-width="0.2">PbrF3&#8217;H2</text>
<rect x="314.1" y="56.75" width="9.02" height="9" fill="#46b6bb"/>
<rect x="323.07" y="56.75" width="9.02" height="9" fill="#f26c84"/>
<rect x="332.04" y="56.75" width="9.02" height="9" fill="#fde8ec"/>
<rect x="341.01" y="56.75" width="9.02" height="9" fill="#b5e2e5"/>
<rect x="349.98" y="56.75" width="9.02" height="9" fill="#a8dde0"/>
<rect x="358.95" y="56.75" width="9.02" height="9" fill="#f38a9e"/>
<text x="373.8" y="64.75" font-size="7.5" fill="#1a1a1a" stroke="#1a1a1a" stroke-width="0.2">PbrF3&#8217;H3</text>
<rect x="314.1" y="65.7" width="9.02" height="9" fill="#eaf7f8"/>
<rect x="323.07" y="65.7" width="9.02" height="9" fill="#7acbcf"/>
<rect x="332.04" y="65.7" width="9.02" height="9" fill="#5ec0c5"/>
<rect x="341.01" y="65.7" width="9.02" height="9" fill="#ee4e70"/>
<rect x="349.98" y="65.7" width="9.02" height="9" fill="#fcdde2"/>
<rect x="358.95" y="65.7" width="9.02" height="9" fill="#f8b3bf"/>
<text x="373.8" y="73.7" font-size="7.5" fill="#1a1a1a" stroke="#1a1a1a" stroke-width="0.2">PbrF3&#8217;H4</text>
<rect x="314.1" y="74.65" width="53.82" height="9" fill="#d6d6d6"/>
<text x="373.8" y="82.65" font-size="7.5" fill="#1a1a1a" stroke="#1a1a1a" stroke-width="0.2">PbrF3&#8217;H5</text>
<rect x="314.1" y="83.6" width="9.02" height="9" fill="#7acbcf"/>
<rect x="323.07" y="83.6" width="9.02" height="9" fill="#ee4e70"/>
<rect x="332.04" y="83.6" width="9.02" height="9" fill="#fbd2d9"/>
<rect x="341.01" y="83.6" width="9.02" height="9" fill="#46b6bb"/>
<rect x="349.98" y="83.6" width="9.02" height="9" fill="#fcdde2"/>
<rect x="358.95" y="83.6" width="9.02" height="9" fill="#fcdde2"/>
<text x="373.8" y="91.6" font-size="7.5" fill="#1a1a1a" stroke="#1a1a1a" stroke-width="0.2">PbrF3&#8217;H6</text>
<rect x="314.1" y="92.55" width="9.02" height="9" fill="#f0607c"/>
<rect x="323.07" y="92.55" width="9.02" height="9" fill="#6ac4c8"/>
<rect x="332.04" y="92.55" width="9.02" height="9" fill="#6ac4c8"/>
<rect x="341.01" y="92.55" width="9.02" height="9" fill="#f2687f"/>
<rect x="349.98" y="92.55" width="9.02" height="9" fill="#daf0f1"/>
<rect x="358.95" y="92.55" width="9.02" height="9" fill="#e5f5f6"/>
<text x="373.8" y="100.55" font-size="7.5" fill="#1a1a1a" stroke="#1a1a1a" stroke-width="0.2">PbrF3&#8217;5&#8217;H1</text>
<rect x="314.1" y="101.5" width="9.02" height="9" fill="#f0607c"/>
<rect x="323.07" y="101.5" width="9.02" height="9" fill="#c7e8ea"/>
<rect x="332.04" y="101.5" width="9.02" height="9" fill="#3aafb4"/>
<rect x="341.01" y="101.5" width="9.02" height="9" fill="#fcdde2"/>
<rect x="349.98" y="101.5" width="9.02" height="9" fill="#fac4cd"/>
<rect x="358.95" y="101.5" width="9.02" height="9" fill="#fac4cd"/>
<text x="373.8" y="109.5" font-size="7.5" fill="#1a1a1a" stroke="#1a1a1a" stroke-width="0.2">PbrF3&#8217;5&#8217;H2</text>
<rect x="413.3" y="11.8" width="5.6" height="97.7" fill="#eab5b3"/>
<rect x="314.1" y="128.9" width="9.02" height="9" fill="#6ac4c8"/>
<rect x="323.07" y="128.9" width="9.02" height="9" fill="#f27a90"/>
<rect x="332.04" y="128.9" width="9.02" height="9" fill="#daf0f1"/>
<rect x="341.01" y="128.9" width="9.02" height="9" fill="#fdeef0"/>
<rect x="349.98" y="128.9" width="9.02" height="9" fill="#6ac4c8"/>
<rect x="358.95" y="128.9" width="9.02" height="9" fill="#f26c84"/>
<text x="373.8" y="136.6" font-size="7.5" fill="#1a1a1a" stroke="#1a1a1a" stroke-width="0.2">PbrPAL1</text>
<rect x="314.1" y="137.85" width="9.02" height="9" fill="#6ac4c8"/>
<rect x="323.07" y="137.85" width="9.02" height="9" fill="#6ac4c8"/>
<rect x="332.04" y="137.85" width="9.02" height="9" fill="#6ac4c8"/>
<rect x="341.01" y="137.85" width="9.02" height="9" fill="#ee4e70"/>
<rect x="349.98" y="137.85" width="9.02" height="9" fill="#f8b9c3"/>
<rect x="358.95" y="137.85" width="9.02" height="9" fill="#f6a0b0"/>
<text x="373.8" y="145.55" font-size="7.5" fill="#1a1a1a" stroke="#1a1a1a" stroke-width="0.2">PbrPAL2</text>
<rect x="413.3" y="129.1" width="5.6" height="17.3" fill="#e3a24f"/>
<rect x="314.1" y="165.6" width="9.02" height="8.97" fill="#6ac4c8"/>
<rect x="323.07" y="165.6" width="9.02" height="8.97" fill="#6ac4c8"/>
<rect x="332.04" y="165.6" width="9.02" height="8.97" fill="#6ac4c8"/>
<rect x="341.01" y="165.6" width="9.02" height="8.97" fill="#f2728a"/>
<rect x="349.98" y="165.6" width="9.02" height="8.97" fill="#f594a7"/>
<rect x="358.95" y="165.6" width="9.02" height="8.97" fill="#f26c84"/>
<text x="373.8" y="172.3" font-size="7.5" fill="#1a1a1a" stroke="#1a1a1a" stroke-width="0.2">Pbr4CL1</text>
<rect x="314.1" y="174.52" width="9.02" height="8.97" fill="#f594a7"/>
<rect x="323.07" y="174.52" width="9.02" height="8.97" fill="#f26c84"/>
<rect x="332.04" y="174.52" width="9.02" height="8.97" fill="#f594a7"/>
<rect x="341.01" y="174.52" width="9.02" height="8.97" fill="#f9fcfc"/>
<rect x="349.98" y="174.52" width="9.02" height="8.97" fill="#3aafb4"/>
<rect x="358.95" y="174.52" width="9.02" height="8.97" fill="#6ac4c8"/>
<text x="373.8" y="181.22" font-size="7.5" fill="#1a1a1a" stroke="#1a1a1a" stroke-width="0.2">Pbr4CL2</text>
<rect x="314.1" y="183.44" width="9.02" height="8.97" fill="#9cd7da"/>
<rect x="323.07" y="183.44" width="9.02" height="8.97" fill="#8ad1d4"/>
<rect x="332.04" y="183.44" width="9.02" height="8.97" fill="#4fb9be"/>
<rect x="341.01" y="183.44" width="9.02" height="8.97" fill="#f2728a"/>
<rect x="349.98" y="183.44" width="9.02" height="8.97" fill="#f8aab6"/>
<rect x="358.95" y="183.44" width="9.02" height="8.97" fill="#f2687f"/>
<text x="373.8" y="190.14" font-size="7.5" fill="#1a1a1a" stroke="#1a1a1a" stroke-width="0.2">Pbr4CL3</text>
<rect x="314.1" y="192.36" width="53.82" height="8.97" fill="#d6d6d6"/>
<text x="373.8" y="199.06" font-size="7.5" fill="#1a1a1a" stroke="#1a1a1a" stroke-width="0.2">Pbr4CL4</text>
<rect x="314.1" y="201.28" width="9.02" height="8.97" fill="#6ac4c8"/>
<rect x="323.07" y="201.28" width="9.02" height="8.97" fill="#6ac4c8"/>
<rect x="332.04" y="201.28" width="9.02" height="8.97" fill="#58bdc2"/>
<rect x="341.01" y="201.28" width="9.02" height="8.97" fill="#f05877"/>
<rect x="349.98" y="201.28" width="9.02" height="8.97" fill="#f7a6b4"/>
<rect x="358.95" y="201.28" width="9.02" height="8.97" fill="#f38a9e"/>
<text x="373.8" y="207.98" font-size="7.5" fill="#1a1a1a" stroke="#1a1a1a" stroke-width="0.2">Pbr4CL5</text>
<rect x="314.1" y="210.2" width="9.02" height="8.97" fill="#f594a7"/>
<rect x="323.07" y="210.2" width="9.02" height="8.97" fill="#f2687f"/>
<rect x="332.04" y="210.2" width="9.02" height="8.97" fill="#fac4cd"/>
<rect x="341.01" y="210.2" width="9.02" height="8.97" fill="#5ec0c5"/>
<rect x="349.98" y="210.2" width="9.02" height="8.97" fill="#5ec0c5"/>
<rect x="358.95" y="210.2" width="9.02" height="8.97" fill="#dff3f4"/>
<text x="373.8" y="216.9" font-size="7.5" fill="#1a1a1a" stroke="#1a1a1a" stroke-width="0.2">Pbr4CL6</text>
<rect x="314.1" y="219.12" width="9.02" height="8.97" fill="#9cd7da"/>
<rect x="323.07" y="219.12" width="9.02" height="8.97" fill="#f2687f"/>
<rect x="332.04" y="219.12" width="9.02" height="8.97" fill="#f2687f"/>
<rect x="341.01" y="219.12" width="9.02" height="8.97" fill="#94d5d8"/>
<rect x="349.98" y="219.12" width="9.02" height="8.97" fill="#94d5d8"/>
<rect x="358.95" y="219.12" width="9.02" height="8.97" fill="#94d5d8"/>
<text x="373.8" y="225.82" font-size="7.5" fill="#1a1a1a" stroke="#1a1a1a" stroke-width="0.2">Pbr4CL7</text>
<rect x="314.1" y="228.04" width="9.02" height="8.97" fill="#6ac4c8"/>
<rect x="323.07" y="228.04" width="9.02" height="8.97" fill="#6ac4c8"/>
<rect x="332.04" y="228.04" width="9.02" height="8.97" fill="#f8b3bf"/>
<rect x="341.01" y="228.04" width="9.02" height="8.97" fill="#9cd7da"/>
<rect x="349.98" y="228.04" width="9.02" height="8.97" fill="#f6a0b0"/>
<rect x="358.95" y="228.04" width="9.02" height="8.97" fill="#f05877"/>
<text x="373.8" y="234.74" font-size="7.5" fill="#1a1a1a" stroke="#1a1a1a" stroke-width="0.2">Pbr4CL8</text>
<rect x="314.1" y="236.96" width="9.02" height="8.97" fill="#58bdc2"/>
<rect x="323.07" y="236.96" width="9.02" height="8.97" fill="#8ad1d4"/>
<rect x="332.04" y="236.96" width="9.02" height="8.97" fill="#9cd7da"/>
<rect x="341.01" y="236.96" width="9.02" height="8.97" fill="#f594a7"/>
<rect x="349.98" y="236.96" width="9.02" height="8.97" fill="#f594a7"/>
<rect x="358.95" y="236.96" width="9.02" height="8.97" fill="#f26c84"/>
<text x="373.8" y="243.66" font-size="7.5" fill="#1a1a1a" stroke="#1a1a1a" stroke-width="0.2">Pbr4CL9</text>
<rect x="314.1" y="245.88" width="9.02" height="8.97" fill="#f5fbfb"/>
<rect x="323.07" y="245.88" width="9.02" height="8.97" fill="#5ec0c5"/>
<rect x="332.04" y="245.88" width="9.02" height="8.97" fill="#5ec0c5"/>
<rect x="341.01" y="245.88" width="9.02" height="8.97" fill="#f38a9e"/>
<rect x="349.98" y="245.88" width="9.02" height="8.97" fill="#f6a0b0"/>
<rect x="358.95" y="245.88" width="9.02" height="8.97" fill="#f48fa2"/>
<text x="373.8" y="252.58" font-size="7.5" fill="#1a1a1a" stroke="#1a1a1a" stroke-width="0.2">Pbr4CL10</text>
<rect x="314.1" y="254.8" width="9.02" height="8.97" fill="#daf0f1"/>
<rect x="323.07" y="254.8" width="9.02" height="8.97" fill="#8ad1d4"/>
<rect x="332.04" y="254.8" width="9.02" height="8.97" fill="#6ac4c8"/>
<rect x="341.01" y="254.8" width="9.02" height="8.97" fill="#f5fbfb"/>
<rect x="349.98" y="254.8" width="9.02" height="8.97" fill="#f26c84"/>
<rect x="358.95" y="254.8" width="9.02" height="8.97" fill="#f2687f"/>
<text x="373.8" y="261.5" font-size="7.5" fill="#1a1a1a" stroke="#1a1a1a" stroke-width="0.2">Pbr4CL11</text>
<rect x="314.1" y="263.72" width="9.02" height="8.97" fill="#46b6bb"/>
<rect x="323.07" y="263.72" width="9.02" height="8.97" fill="#f38a9e"/>
<rect x="332.04" y="263.72" width="9.02" height="8.97" fill="#f2687f"/>
<rect x="341.01" y="263.72" width="9.02" height="8.97" fill="#a8dde0"/>
<rect x="349.98" y="263.72" width="9.02" height="8.97" fill="#daf0f1"/>
<rect x="358.95" y="263.72" width="9.02" height="8.97" fill="#f5fbfb"/>
<text x="373.8" y="270.42" font-size="7.5" fill="#1a1a1a" stroke="#1a1a1a" stroke-width="0.2">Pbr4CL12</text>
<rect x="314.1" y="272.64" width="9.02" height="8.97" fill="#f0607c"/>
<rect x="323.07" y="272.64" width="9.02" height="8.97" fill="#f8b9c3"/>
<rect x="332.04" y="272.64" width="9.02" height="8.97" fill="#fde4e8"/>
<rect x="341.01" y="272.64" width="9.02" height="8.97" fill="#f9fcfc"/>
<rect x="349.98" y="272.64" width="9.02" height="8.97" fill="#a3dadd"/>
<rect x="358.95" y="272.64" width="9.02" height="8.97" fill="#46b6bb"/>
<text x="373.8" y="279.34" font-size="7.5" fill="#1a1a1a" stroke="#1a1a1a" stroke-width="0.2">Pbr4CL13</text>
<rect x="314.1" y="281.56" width="9.02" height="8.97" fill="#ee4e70"/>
<rect x="323.07" y="281.56" width="9.02" height="8.97" fill="#fde4e8"/>
<rect x="332.04" y="281.56" width="9.02" height="8.97" fill="#fcdde2"/>
<rect x="341.01" y="281.56" width="9.02" height="8.97" fill="#fdeef0"/>
<rect x="349.98" y="281.56" width="9.02" height="8.97" fill="#7acbcf"/>
<rect x="358.95" y="281.56" width="9.02" height="8.97" fill="#6ac4c8"/>
<text x="373.8" y="288.26" font-size="7.5" fill="#1a1a1a" stroke="#1a1a1a" stroke-width="0.2">Pbr4CL14</text>
<rect x="314.1" y="290.48" width="9.02" height="8.97" fill="#f9fcfc"/>
<rect x="323.07" y="290.48" width="9.02" height="8.97" fill="#8ad1d4"/>
<rect x="332.04" y="290.48" width="9.02" height="8.97" fill="#fac4cd"/>
<rect x="341.01" y="290.48" width="9.02" height="8.97" fill="#6ac4c8"/>
<rect x="349.98" y="290.48" width="9.02" height="8.97" fill="#ec3a60"/>
<rect x="358.95" y="290.48" width="9.02" height="8.97" fill="#a3dadd"/>
<text x="373.8" y="297.18" font-size="7.5" fill="#1a1a1a" stroke="#1a1a1a" stroke-width="0.2">Pbr4CL15</text>
<rect x="314.1" y="299.4" width="9.02" height="8.97" fill="#a3dadd"/>
<rect x="323.07" y="299.4" width="9.02" height="8.97" fill="#f9fcfc"/>
<rect x="332.04" y="299.4" width="9.02" height="8.97" fill="#f0607c"/>
<rect x="341.01" y="299.4" width="9.02" height="8.97" fill="#6ac4c8"/>
<rect x="349.98" y="299.4" width="9.02" height="8.97" fill="#f38a9e"/>
<rect x="358.95" y="299.4" width="9.02" height="8.97" fill="#8ad1d4"/>
<text x="373.8" y="306.1" font-size="7.5" fill="#1a1a1a" stroke="#1a1a1a" stroke-width="0.2">Pbr4CL16</text>
<rect x="314.1" y="308.32" width="9.02" height="8.97" fill="#7acbcf"/>
<rect x="323.07" y="308.32" width="9.02" height="8.97" fill="#f26c84"/>
<rect x="332.04" y="308.32" width="9.02" height="8.97" fill="#f26c84"/>
<rect x="341.01" y="308.32" width="9.02" height="8.97" fill="#94d5d8"/>
<rect x="349.98" y="308.32" width="9.02" height="8.97" fill="#94d5d8"/>
<rect x="358.95" y="308.32" width="9.02" height="8.97" fill="#f5fbfb"/>
<text x="373.8" y="315.02" font-size="7.5" fill="#1a1a1a" stroke="#1a1a1a" stroke-width="0.2">Pbr4CL17</text>
<rect x="314.1" y="317.24" width="53.82" height="8.97" fill="#d6d6d6"/>
<text x="373.8" y="323.94" font-size="7.5" fill="#1a1a1a" stroke="#1a1a1a" stroke-width="0.2">Pbr4CL18</text>
<rect x="413.3" y="165.4" width="5.6" height="159" fill="#709d90"/>
<rect x="443.4" y="22.9" width="10.32" height="10.2" fill="#fff" stroke="#444" stroke-width="0.8"/>
<text x="448.56" y="38.5" font-size="6.5" text-anchor="middle" fill="#222" stroke="#222" stroke-width="0.2">B1</text>
<rect x="453.72" y="22.9" width="10.32" height="10.2" fill="#fff" stroke="#444" stroke-width="0.8"/>
<text x="458.88" y="38.5" font-size="6.5" text-anchor="middle" fill="#222" stroke="#222" stroke-width="0.2">B2</text>
<rect x="464.04" y="22.9" width="10.32" height="10.2" fill="#fff" stroke="#444" stroke-width="0.8"/>
<text x="469.2" y="38.5" font-size="6.5" text-anchor="middle" fill="#222" stroke="#222" stroke-width="0.2">B3</text>
<rect x="474.36" y="22.9" width="10.32" height="10.2" fill="#fff" stroke="#444" stroke-width="0.8"/>
<text x="479.52" y="38.5" font-size="6.5" text-anchor="middle" fill="#222" stroke="#222" stroke-width="0.2">D1</text>
<rect x="484.68" y="22.9" width="10.32" height="10.2" fill="#fff" stroke="#444" stroke-width="0.8"/>
<text x="489.84" y="38.5" font-size="6.5" text-anchor="middle" fill="#222" stroke="#222" stroke-width="0.2">D2</text>
<rect x="495" y="22.9" width="10.32" height="10.2" fill="#fff" stroke="#444" stroke-width="0.8"/>
<text x="500.16" y="38.5" font-size="6.5" text-anchor="middle" fill="#222" stroke="#222" stroke-width="0.2">D3</text>
<defs><linearGradient id="cbA" x1="0" y1="0" x2="0" y2="1"><stop offset="0" stop-color="#e8305a"/><stop offset="0.05" stop-color="#ea3f66"/><stop offset="0.1" stop-color="#eb4f72"/><stop offset="0.15" stop-color="#ed5f7f"/><stop offset="0.2" stop-color="#ef708d"/><stop offset="0.25" stop-color="#f1819b"/><stop offset="0.3" stop-color="#f394aa"/><stop offset="0.35" stop-color="#f5a8ba"/><stop offset="0.4" stop-color="#f8becb"/><stop offset="0.45" stop-color="#fbd8e0"/><stop offset="0.5" stop-color="#ffffff"/><stop offset="0.55" stop-color="#d5edee"/><stop offset="0.6" stop-color="#bae1e3"/><stop offset="0.65" stop-color="#a3d7d9"/><stop offset="0.7" stop-color="#8eced0"/><stop offset="0.75" stop-color="#7ac5c8"/><stop offset="0.8" stop-color="#67bdc1"/><stop offset="0.85" stop-color="#56b6b9"/><stop offset="0.9" stop-color="#45aeb2"/><stop offset="0.95" stop-color="#34a7ac"/><stop offset="1" stop-color="#24a0a5"/></linearGradient><linearGradient id="cbC" x1="0" y1="0" x2="0" y2="1"><stop offset="0" stop-color="#d83a5a"/><stop offset="1" stop-color="#f5a7b9"/></linearGradient></defs>
<rect x="466" y="47.4" width="8.7" height="129.2" fill="url(#cbA)"/>
<text x="478.4" y="64" font-size="6.8" fill="#222" stroke="#222" stroke-width="0.2">1.5</text>
<text x="478.4" y="80.9" font-size="6.8" fill="#222" stroke="#222" stroke-width="0.2">1</text>
<text x="478.4" y="97.7" font-size="6.8" fill="#222" stroke="#222" stroke-width="0.2">0.5</text>
<text x="478.4" y="114.2" font-size="6.8" fill="#222" stroke="#222" stroke-width="0.2">0</text>
<text x="478.4" y="131" font-size="6.8" fill="#222" stroke="#222" stroke-width="0.2">&#8722;0.5</text>
<text x="478.4" y="147.7" font-size="6.8" fill="#222" stroke="#222" stroke-width="0.2">&#8722;1</text>
<text x="478.4" y="164.7" font-size="6.8" fill="#222" stroke="#222" stroke-width="0.2">&#8722;1.5</text>
<text transform="translate(459.4,111.4) rotate(-90)" font-size="8.5" text-anchor="middle" fill="#222" stroke="#222" stroke-width="0.15">Log<tspan font-size="5.6" dy="2">2</tspan><tspan dy="-2">(RPKM+1)</tspan></text>
<rect x="464.4" y="195" width="13" height="12.6" fill="#dca35e" stroke="#555" stroke-width="0.6"/>
<text x="484" y="204.8" font-size="8.5" fill="#222" stroke="#222" stroke-width="0.2">PAL</text>
<rect x="464.4" y="210.42" width="13" height="12.6" fill="#6b9d8b" stroke="#555" stroke-width="0.6"/>
<text x="484" y="220.22" font-size="8.5" fill="#222" stroke="#222" stroke-width="0.2">4CL</text>
<rect x="464.4" y="225.84" width="13" height="12.6" fill="#f1bcbc" stroke="#555" stroke-width="0.6"/>
<text x="484" y="235.64" font-size="8.5" fill="#222" stroke="#222" stroke-width="0.2">P450</text>
<rect x="464.4" y="241.26" width="13" height="12.6" fill="#a8d8ef" stroke="#555" stroke-width="0.6"/>
<text x="484" y="251.06" font-size="8.5" fill="#222" stroke="#222" stroke-width="0.2">SDR</text>
<rect x="464.4" y="256.68" width="13" height="12.6" fill="#8fab6a" stroke="#555" stroke-width="0.6"/>
<text x="484" y="266.48" font-size="8.5" fill="#222" stroke="#222" stroke-width="0.2">CHI</text>
<rect x="464.4" y="272.1" width="13" height="12.6" fill="#efbb93" stroke="#555" stroke-width="0.6"/>
<text x="484" y="281.9" font-size="8.5" fill="#222" stroke="#222" stroke-width="0.2">CHS</text>
<rect x="464.4" y="287.52" width="13" height="12.6" fill="#1f9a9c" stroke="#555" stroke-width="0.6"/>
<text x="484" y="297.32" font-size="8.5" fill="#222" stroke="#222" stroke-width="0.2">2OGD</text>
<rect x="464.4" y="302.94" width="13" height="12.6" fill="#ee9ba2" stroke="#555" stroke-width="0.6"/>
<text x="484" y="312.74" font-size="8.5" fill="#222" stroke="#222" stroke-width="0.2">UFGT</text>
<line x1="22.5" y1="339.6" x2="523" y2="339.6" stroke="#8a8a8a" stroke-width="1"/>
<text x="13.6" y="352.9" font-size="9.8" font-weight="bold" fill="#111">B</text>
<text x="90" y="354.9" font-size="8.7" text-anchor="middle" font-weight="bold" font-style="italic" fill="#111">PbrPAL2</text>
<text transform="translate(35.9,398.45) rotate(-90)" font-size="6.0" font-weight="bold" text-anchor="middle" fill="#111">Relative expression level</text>
<line x1="55.2" y1="425.6" x2="55.2" y2="423" stroke="#444" stroke-width="0.7"/>
<line x1="53.9" y1="423" x2="56.5" y2="423" stroke="#444" stroke-width="0.7"/>
<line x1="64" y1="380.6" x2="64" y2="377.6" stroke="#444" stroke-width="0.7"/>
<line x1="62.7" y1="377.6" x2="65.3" y2="377.6" stroke="#444" stroke-width="0.7"/>
<rect x="52.7" y="425.6" width="5" height="6.9" fill="#5e96ca" stroke="#34689a" stroke-width="0.7"/>
<rect x="61.5" y="380.6" width="5" height="51.9" fill="#d97490" stroke="#a24760" stroke-width="0.7"/>
<rect x="76.3" y="429.4" width="5" height="3.1" fill="#5e96ca" stroke="#34689a" stroke-width="0.7"/>
<rect x="85.1" y="405" width="5" height="27.5" fill="#d97490" stroke="#a24760" stroke-width="0.7"/>
<line x1="111.3" y1="409" x2="111.3" y2="405" stroke="#444" stroke-width="0.7"/>
<line x1="110" y1="405" x2="112.6" y2="405" stroke="#444" stroke-width="0.7"/>
<rect x="100" y="427" width="5" height="5.5" fill="#5e96ca" stroke="#34689a" stroke-width="0.7"/>
<rect x="108.8" y="409" width="5" height="23.5" fill="#d97490" stroke="#a24760" stroke-width="0.7"/>
<line x1="49.3" y1="433" x2="49.3" y2="364.4" stroke="#111" stroke-width="1.1"/>
<line x1="48.75" y1="432.5" x2="114.4" y2="432.5" stroke="#111" stroke-width="1.1"/>
<line x1="46.9" y1="364.8" x2="49.3" y2="364.8" stroke="#111" stroke-width="0.8"/>
<text x="46.3" y="366.5" font-size="4.9" text-anchor="end" font-weight="bold" fill="#222">20</text>
<line x1="46.9" y1="381.6" x2="49.3" y2="381.6" stroke="#111" stroke-width="0.8"/>
<text x="46.3" y="383.3" font-size="4.9" text-anchor="end" font-weight="bold" fill="#222">15</text>
<line x1="46.9" y1="398.4" x2="49.3" y2="398.4" stroke="#111" stroke-width="0.8"/>
<text x="46.3" y="400.1" font-size="4.9" text-anchor="end" font-weight="bold" fill="#222">10</text>
<line x1="46.9" y1="415.4" x2="49.3" y2="415.4" stroke="#111" stroke-width="0.8"/>
<text x="46.3" y="417.1" font-size="4.9" text-anchor="end" font-weight="bold" fill="#222">5</text>
<line x1="46.9" y1="432.5" x2="49.3" y2="432.5" stroke="#111" stroke-width="0.8"/>
<text x="46.3" y="434.2" font-size="4.9" text-anchor="end" font-weight="bold" fill="#222">0</text>
<line x1="59.6" y1="432.5" x2="59.6" y2="434.5" stroke="#111" stroke-width="0.8"/>
<text x="59.6" y="441.5" font-size="5.4" text-anchor="middle" font-weight="bold" fill="#222">4D</text>
<line x1="83.2" y1="432.5" x2="83.2" y2="434.5" stroke="#111" stroke-width="0.8"/>
<text x="83.2" y="441.5" font-size="5.4" text-anchor="middle" font-weight="bold" fill="#222">8D</text>
<line x1="106.9" y1="432.5" x2="106.9" y2="434.5" stroke="#111" stroke-width="0.8"/>
<text x="106.9" y="441.5" font-size="5.4" text-anchor="middle" font-weight="bold" fill="#222">10D</text>
<text x="196" y="354.9" font-size="8.7" text-anchor="middle" font-weight="bold" font-style="italic" fill="#111">Pbr4CL5</text>
<text transform="translate(141.9,398.25) rotate(-90)" font-size="6.0" font-weight="bold" text-anchor="middle" fill="#111">Relative expression level</text>
<line x1="169.7" y1="376" x2="169.7" y2="370.9" stroke="#444" stroke-width="0.7"/>
<line x1="168.4" y1="370.9" x2="171" y2="370.9" stroke="#444" stroke-width="0.7"/>
<rect x="158.4" y="427.2" width="5" height="5.1" fill="#5e96ca" stroke="#34689a" stroke-width="0.7"/>
<rect x="167.2" y="376" width="5" height="56.3" fill="#d97490" stroke="#a24760" stroke-width="0.7"/>
<line x1="193.4" y1="409" x2="193.4" y2="408.4" stroke="#444" stroke-width="0.7"/>
<line x1="192.1" y1="408.4" x2="194.7" y2="408.4" stroke="#444" stroke-width="0.7"/>
<rect x="182.1" y="430.1" width="5" height="2.2" fill="#5e96ca" stroke="#34689a" stroke-width="0.7"/>
<rect x="190.9" y="409" width="5" height="23.3" fill="#d97490" stroke="#a24760" stroke-width="0.7"/>
<rect x="205.9" y="429.5" width="5" height="2.8" fill="#5e96ca" stroke="#34689a" stroke-width="0.7"/>
<rect x="214.7" y="406.3" width="5" height="26" fill="#d97490" stroke="#a24760" stroke-width="0.7"/>
<line x1="155.5" y1="432.8" x2="155.5" y2="364.2" stroke="#111" stroke-width="1.1"/>
<line x1="154.95" y1="432.3" x2="222" y2="432.3" stroke="#111" stroke-width="1.1"/>
<line x1="153.1" y1="364.4" x2="155.5" y2="364.4" stroke="#111" stroke-width="0.8"/>
<text x="152.5" y="366.1" font-size="4.9" text-anchor="end" font-weight="bold" fill="#222">25</text>
<line x1="153.1" y1="377.8" x2="155.5" y2="377.8" stroke="#111" stroke-width="0.8"/>
<text x="152.5" y="379.5" font-size="4.9" text-anchor="end" font-weight="bold" fill="#222">20</text>
<line x1="153.1" y1="391.3" x2="155.5" y2="391.3" stroke="#111" stroke-width="0.8"/>
<text x="152.5" y="393" font-size="4.9" text-anchor="end" font-weight="bold" fill="#222">15</text>
<line x1="153.1" y1="404.8" x2="155.5" y2="404.8" stroke="#111" stroke-width="0.8"/>
<text x="152.5" y="406.5" font-size="4.9" text-anchor="end" font-weight="bold" fill="#222">10</text>
<line x1="153.1" y1="418.5" x2="155.5" y2="418.5" stroke="#111" stroke-width="0.8"/>
<text x="152.5" y="420.2" font-size="4.9" text-anchor="end" font-weight="bold" fill="#222">5</text>
<line x1="153.1" y1="432.3" x2="155.5" y2="432.3" stroke="#111" stroke-width="0.8"/>
<text x="152.5" y="434" font-size="4.9" text-anchor="end" font-weight="bold" fill="#222">0</text>
<line x1="165.3" y1="432.3" x2="165.3" y2="434.3" stroke="#111" stroke-width="0.8"/>
<text x="165.3" y="441.3" font-size="5.4" text-anchor="middle" font-weight="bold" fill="#222">4D</text>
<line x1="189" y1="432.3" x2="189" y2="434.3" stroke="#111" stroke-width="0.8"/>
<text x="189" y="441.3" font-size="5.4" text-anchor="middle" font-weight="bold" fill="#222">8D</text>
<line x1="212.8" y1="432.3" x2="212.8" y2="434.3" stroke="#111" stroke-width="0.8"/>
<text x="212.8" y="441.3" font-size="5.4" text-anchor="middle" font-weight="bold" fill="#222">10D</text>
<text x="304" y="354.9" font-size="8.7" text-anchor="middle" font-weight="bold" font-style="italic" fill="#111">PbrCHS1</text>
<text transform="translate(247.7,397.25) rotate(-90)" font-size="6.0" font-weight="bold" text-anchor="middle" fill="#111">Relative expression level</text>
<line x1="269.6" y1="415.6" x2="269.6" y2="413.5" stroke="#444" stroke-width="0.7"/>
<line x1="268.3" y1="413.5" x2="270.9" y2="413.5" stroke="#444" stroke-width="0.7"/>
<line x1="278.4" y1="372.1" x2="278.4" y2="370" stroke="#444" stroke-width="0.7"/>
<line x1="277.1" y1="370" x2="279.7" y2="370" stroke="#444" stroke-width="0.7"/>
<rect x="267.1" y="415.6" width="5" height="15.8" fill="#5e96ca" stroke="#34689a" stroke-width="0.7"/>
<rect x="275.9" y="372.1" width="5" height="59.3" fill="#d97490" stroke="#a24760" stroke-width="0.7"/>
<line x1="293.6" y1="425.2" x2="293.6" y2="424.2" stroke="#444" stroke-width="0.7"/>
<line x1="292.3" y1="424.2" x2="294.9" y2="424.2" stroke="#444" stroke-width="0.7"/>
<line x1="302.4" y1="390" x2="302.4" y2="389.4" stroke="#444" stroke-width="0.7"/>
<line x1="301.1" y1="389.4" x2="303.7" y2="389.4" stroke="#444" stroke-width="0.7"/>
<rect x="291.1" y="425.2" width="5" height="6.2" fill="#5e96ca" stroke="#34689a" stroke-width="0.7"/>
<rect x="299.9" y="390" width="5" height="41.4" fill="#d97490" stroke="#a24760" stroke-width="0.7"/>
<line x1="326.4" y1="392" x2="326.4" y2="391.4" stroke="#444" stroke-width="0.7"/>
<line x1="325.1" y1="391.4" x2="327.7" y2="391.4" stroke="#444" stroke-width="0.7"/>
<rect x="315.1" y="425.6" width="5" height="5.8" fill="#5e96ca" stroke="#34689a" stroke-width="0.7"/>
<rect x="323.9" y="392" width="5" height="39.4" fill="#d97490" stroke="#a24760" stroke-width="0.7"/>
<line x1="263.3" y1="431.9" x2="263.3" y2="398.8" stroke="#111" stroke-width="1.1"/>
<line x1="263.3" y1="395.1" x2="263.3" y2="363.1" stroke="#111" stroke-width="1.1"/>
<line x1="261.5" y1="400" x2="265.1" y2="397.6" stroke="#111" stroke-width="0.9"/>
<line x1="261.5" y1="395.8" x2="265.1" y2="393.4" stroke="#111" stroke-width="0.9"/>
<line x1="262.75" y1="431.4" x2="332" y2="431.4" stroke="#111" stroke-width="1.1"/>
<line x1="260.9" y1="363.3" x2="263.3" y2="363.3" stroke="#111" stroke-width="0.8"/>
<text x="260.3" y="365" font-size="4.9" text-anchor="end" font-weight="bold" fill="#222">100</text>
<line x1="260.9" y1="370.4" x2="263.3" y2="370.4" stroke="#111" stroke-width="0.8"/>
<text x="260.3" y="372.1" font-size="4.9" text-anchor="end" font-weight="bold" fill="#222">80</text>
<line x1="260.9" y1="377.4" x2="263.3" y2="377.4" stroke="#111" stroke-width="0.8"/>
<text x="260.3" y="379.1" font-size="4.9" text-anchor="end" font-weight="bold" fill="#222">60</text>
<line x1="260.9" y1="384.4" x2="263.3" y2="384.4" stroke="#111" stroke-width="0.8"/>
<text x="260.3" y="386.1" font-size="4.9" text-anchor="end" font-weight="bold" fill="#222">40</text>
<line x1="260.9" y1="391.4" x2="263.3" y2="391.4" stroke="#111" stroke-width="0.8"/>
<text x="260.3" y="393.1" font-size="4.9" text-anchor="end" font-weight="bold" fill="#222">20</text>
<line x1="260.9" y1="400.5" x2="263.3" y2="400.5" stroke="#111" stroke-width="0.8"/>
<text x="260.3" y="402.2" font-size="4.9" text-anchor="end" font-weight="bold" fill="#222">5</text>
<line x1="260.9" y1="406.6" x2="263.3" y2="406.6" stroke="#111" stroke-width="0.8"/>
<text x="260.3" y="408.3" font-size="4.9" text-anchor="end" font-weight="bold" fill="#222">4</text>
<line x1="260.9" y1="412.8" x2="263.3" y2="412.8" stroke="#111" stroke-width="0.8"/>
<text x="260.3" y="414.5" font-size="4.9" text-anchor="end" font-weight="bold" fill="#222">3</text>
<line x1="260.9" y1="419" x2="263.3" y2="419" stroke="#111" stroke-width="0.8"/>
<text x="260.3" y="420.7" font-size="4.9" text-anchor="end" font-weight="bold" fill="#222">2</text>
<line x1="260.9" y1="425.2" x2="263.3" y2="425.2" stroke="#111" stroke-width="0.8"/>
<text x="260.3" y="426.9" font-size="4.9" text-anchor="end" font-weight="bold" fill="#222">1</text>
<line x1="260.9" y1="431.4" x2="263.3" y2="431.4" stroke="#111" stroke-width="0.8"/>
<text x="260.3" y="433.1" font-size="4.9" text-anchor="end" font-weight="bold" fill="#222">0</text>
<line x1="274" y1="431.4" x2="274" y2="433.4" stroke="#111" stroke-width="0.8"/>
<text x="274" y="440.4" font-size="5.4" text-anchor="middle" font-weight="bold" fill="#222">4D</text>
<line x1="298" y1="431.4" x2="298" y2="433.4" stroke="#111" stroke-width="0.8"/>
<text x="298" y="440.4" font-size="5.4" text-anchor="middle" font-weight="bold" fill="#222">8D</text>
<line x1="322" y1="431.4" x2="322" y2="433.4" stroke="#111" stroke-width="0.8"/>
<text x="322" y="440.4" font-size="5.4" text-anchor="middle" font-weight="bold" fill="#222">10D</text>
<text x="409.6" y="354.9" font-size="8.7" text-anchor="middle" font-weight="bold" font-style="italic" fill="#111">PbrCHS2</text>
<text transform="translate(357.7,398.3) rotate(-90)" font-size="6.0" font-weight="bold" text-anchor="middle" fill="#111">Relative expression level</text>
<line x1="386" y1="383.6" x2="386" y2="380.6" stroke="#444" stroke-width="0.7"/>
<line x1="384.7" y1="380.6" x2="387.3" y2="380.6" stroke="#444" stroke-width="0.7"/>
<rect x="374.7" y="431.8" width="5" height="0.6" fill="#5e96ca" stroke="#34689a" stroke-width="0.7"/>
<rect x="383.5" y="383.6" width="5" height="48.8" fill="#d97490" stroke="#a24760" stroke-width="0.7"/>
<line x1="409.8" y1="416" x2="409.8" y2="414.4" stroke="#444" stroke-width="0.7"/>
<line x1="408.5" y1="414.4" x2="411.1" y2="414.4" stroke="#444" stroke-width="0.7"/>
<rect x="398.5" y="431" width="5" height="1.4" fill="#5e96ca" stroke="#34689a" stroke-width="0.7"/>
<rect x="407.3" y="416" width="5" height="16.4" fill="#d97490" stroke="#a24760" stroke-width="0.7"/>
<line x1="433.8" y1="421.4" x2="433.8" y2="420" stroke="#444" stroke-width="0.7"/>
<line x1="432.5" y1="420" x2="435.1" y2="420" stroke="#444" stroke-width="0.7"/>
<rect x="422.5" y="431" width="5" height="1.4" fill="#5e96ca" stroke="#34689a" stroke-width="0.7"/>
<rect x="431.3" y="421.4" width="5" height="11" fill="#d97490" stroke="#a24760" stroke-width="0.7"/>
<line x1="372" y1="432.9" x2="372" y2="364.2" stroke="#111" stroke-width="1.1"/>
<line x1="371.45" y1="432.4" x2="437.2" y2="432.4" stroke="#111" stroke-width="1.1"/>
<line x1="369.6" y1="364.4" x2="372" y2="364.4" stroke="#111" stroke-width="0.8"/>
<text x="369" y="366.1" font-size="4.9" text-anchor="end" font-weight="bold" fill="#222">40</text>
<line x1="369.6" y1="381.4" x2="372" y2="381.4" stroke="#111" stroke-width="0.8"/>
<text x="369" y="383.1" font-size="4.9" text-anchor="end" font-weight="bold" fill="#222">30</text>
<line x1="369.6" y1="398.4" x2="372" y2="398.4" stroke="#111" stroke-width="0.8"/>
<text x="369" y="400.1" font-size="4.9" text-anchor="end" font-weight="bold" fill="#222">20</text>
<line x1="369.6" y1="415.4" x2="372" y2="415.4" stroke="#111" stroke-width="0.8"/>
<text x="369" y="417.1" font-size="4.9" text-anchor="end" font-weight="bold" fill="#222">10</text>
<line x1="369.6" y1="432.4" x2="372" y2="432.4" stroke="#111" stroke-width="0.8"/>
<text x="369" y="434.1" font-size="4.9" text-anchor="end" font-weight="bold" fill="#222">0</text>
<line x1="381.6" y1="432.4" x2="381.6" y2="434.4" stroke="#111" stroke-width="0.8"/>
<text x="381.6" y="441.4" font-size="5.4" text-anchor="middle" font-weight="bold" fill="#222">4D</text>
<line x1="405.4" y1="432.4" x2="405.4" y2="434.4" stroke="#111" stroke-width="0.8"/>
<text x="405.4" y="441.4" font-size="5.4" text-anchor="middle" font-weight="bold" fill="#222">8D</text>
<line x1="429.4" y1="432.4" x2="429.4" y2="434.4" stroke="#111" stroke-width="0.8"/>
<text x="429.4" y="441.4" font-size="5.4" text-anchor="middle" font-weight="bold" fill="#222">10D</text>
<text x="89.6" y="461.9" font-size="8.7" text-anchor="middle" font-weight="bold" font-style="italic" fill="#111">PbrCHI8</text>
<text transform="translate(35.9,504.7) rotate(-90)" font-size="6.0" font-weight="bold" text-anchor="middle" fill="#111">Relative expression level</text>
<line x1="55.2" y1="532" x2="55.2" y2="530" stroke="#444" stroke-width="0.7"/>
<line x1="53.9" y1="530" x2="56.5" y2="530" stroke="#444" stroke-width="0.7"/>
<line x1="64" y1="483" x2="64" y2="480.4" stroke="#444" stroke-width="0.7"/>
<line x1="62.7" y1="480.4" x2="65.3" y2="480.4" stroke="#444" stroke-width="0.7"/>
<rect x="52.7" y="532" width="5" height="6.6" fill="#5e96ca" stroke="#34689a" stroke-width="0.7"/>
<rect x="61.5" y="483" width="5" height="55.6" fill="#d97490" stroke="#a24760" stroke-width="0.7"/>
<line x1="87.6" y1="528.6" x2="87.6" y2="525" stroke="#444" stroke-width="0.7"/>
<line x1="86.3" y1="525" x2="88.9" y2="525" stroke="#444" stroke-width="0.7"/>
<rect x="76.3" y="536" width="5" height="2.6" fill="#5e96ca" stroke="#34689a" stroke-width="0.7"/>
<rect x="85.1" y="528.6" width="5" height="10" fill="#d97490" stroke="#a24760" stroke-width="0.7"/>
<line x1="111.3" y1="493" x2="111.3" y2="490.6" stroke="#444" stroke-width="0.7"/>
<line x1="110" y1="490.6" x2="112.6" y2="490.6" stroke="#444" stroke-width="0.7"/>
<rect x="100" y="534.4" width="5" height="4.2" fill="#5e96ca" stroke="#34689a" stroke-width="0.7"/>
<rect x="108.8" y="493" width="5" height="45.6" fill="#d97490" stroke="#a24760" stroke-width="0.7"/>
<line x1="49.4" y1="539.1" x2="49.4" y2="470.8" stroke="#111" stroke-width="1.1"/>
<line x1="48.85" y1="538.6" x2="114.4" y2="538.6" stroke="#111" stroke-width="1.1"/>
<line x1="47" y1="471" x2="49.4" y2="471" stroke="#111" stroke-width="0.8"/>
<text x="46.4" y="472.7" font-size="4.9" text-anchor="end" font-weight="bold" fill="#222">20</text>
<line x1="47" y1="487.6" x2="49.4" y2="487.6" stroke="#111" stroke-width="0.8"/>
<text x="46.4" y="489.3" font-size="4.9" text-anchor="end" font-weight="bold" fill="#222">15</text>
<line x1="47" y1="504.6" x2="49.4" y2="504.6" stroke="#111" stroke-width="0.8"/>
<text x="46.4" y="506.3" font-size="4.9" text-anchor="end" font-weight="bold" fill="#222">10</text>
<line x1="47" y1="521.6" x2="49.4" y2="521.6" stroke="#111" stroke-width="0.8"/>
<text x="46.4" y="523.3" font-size="4.9" text-anchor="end" font-weight="bold" fill="#222">5</text>
<line x1="47" y1="538.6" x2="49.4" y2="538.6" stroke="#111" stroke-width="0.8"/>
<text x="46.4" y="540.3" font-size="4.9" text-anchor="end" font-weight="bold" fill="#222">0</text>
<line x1="59.6" y1="538.6" x2="59.6" y2="540.6" stroke="#111" stroke-width="0.8"/>
<text x="59.6" y="547.6" font-size="5.4" text-anchor="middle" font-weight="bold" fill="#222">4D</text>
<line x1="83.2" y1="538.6" x2="83.2" y2="540.6" stroke="#111" stroke-width="0.8"/>
<text x="83.2" y="547.6" font-size="5.4" text-anchor="middle" font-weight="bold" fill="#222">8D</text>
<line x1="106.9" y1="538.6" x2="106.9" y2="540.6" stroke="#111" stroke-width="0.8"/>
<text x="106.9" y="547.6" font-size="5.4" text-anchor="middle" font-weight="bold" fill="#222">10D</text>
<text x="196" y="461.7" font-size="8.7" text-anchor="middle" font-weight="bold" font-style="italic" fill="#111">PbrF3H4</text>
<text transform="translate(143.5,504.7) rotate(-90)" font-size="6.0" font-weight="bold" text-anchor="middle" fill="#111">Relative expression level</text>
<line x1="171.2" y1="484.6" x2="171.2" y2="482.2" stroke="#444" stroke-width="0.7"/>
<line x1="169.9" y1="482.2" x2="172.5" y2="482.2" stroke="#444" stroke-width="0.7"/>
<rect x="159.9" y="533" width="5" height="5.6" fill="#5e96ca" stroke="#34689a" stroke-width="0.7"/>
<rect x="168.7" y="484.6" width="5" height="54" fill="#d97490" stroke="#a24760" stroke-width="0.7"/>
<line x1="194.6" y1="494" x2="194.6" y2="488" stroke="#444" stroke-width="0.7"/>
<line x1="193.3" y1="488" x2="195.9" y2="488" stroke="#444" stroke-width="0.7"/>
<rect x="183.3" y="533.6" width="5" height="5" fill="#5e96ca" stroke="#34689a" stroke-width="0.7"/>
<rect x="192.1" y="494" width="5" height="44.6" fill="#d97490" stroke="#a24760" stroke-width="0.7"/>
<line x1="218.4" y1="492.4" x2="218.4" y2="489" stroke="#444" stroke-width="0.7"/>
<line x1="217.1" y1="489" x2="219.7" y2="489" stroke="#444" stroke-width="0.7"/>
<rect x="207.1" y="534.6" width="5" height="4" fill="#5e96ca" stroke="#34689a" stroke-width="0.7"/>
<rect x="215.9" y="492.4" width="5" height="46.2" fill="#d97490" stroke="#a24760" stroke-width="0.7"/>
<line x1="157" y1="539.1" x2="157" y2="470.8" stroke="#111" stroke-width="1.1"/>
<line x1="156.45" y1="538.6" x2="221.8" y2="538.6" stroke="#111" stroke-width="1.1"/>
<line x1="154.6" y1="471" x2="157" y2="471" stroke="#111" stroke-width="0.8"/>
<text x="154" y="472.7" font-size="4.9" text-anchor="end" font-weight="bold" fill="#222">15</text>
<line x1="154.6" y1="493.4" x2="157" y2="493.4" stroke="#111" stroke-width="0.8"/>
<text x="154" y="495.1" font-size="4.9" text-anchor="end" font-weight="bold" fill="#222">10</text>
<line x1="154.6" y1="516" x2="157" y2="516" stroke="#111" stroke-width="0.8"/>
<text x="154" y="517.7" font-size="4.9" text-anchor="end" font-weight="bold" fill="#222">5</text>
<line x1="154.6" y1="538.6" x2="157" y2="538.6" stroke="#111" stroke-width="0.8"/>
<text x="154" y="540.3" font-size="4.9" text-anchor="end" font-weight="bold" fill="#222">0</text>
<line x1="166.8" y1="538.6" x2="166.8" y2="540.6" stroke="#111" stroke-width="0.8"/>
<text x="166.8" y="547.6" font-size="5.4" text-anchor="middle" font-weight="bold" fill="#222">4D</text>
<line x1="190.2" y1="538.6" x2="190.2" y2="540.6" stroke="#111" stroke-width="0.8"/>
<text x="190.2" y="547.6" font-size="5.4" text-anchor="middle" font-weight="bold" fill="#222">8D</text>
<line x1="214" y1="538.6" x2="214" y2="540.6" stroke="#111" stroke-width="0.8"/>
<text x="214" y="547.6" font-size="5.4" text-anchor="middle" font-weight="bold" fill="#222">10D</text>
<text x="303" y="461.9" font-size="8.7" text-anchor="middle" font-weight="bold" font-style="italic" fill="#111">PbrFLS2</text>
<text transform="translate(247.7,504.45) rotate(-90)" font-size="6.0" font-weight="bold" text-anchor="middle" fill="#111">Relative expression level</text>
<rect x="267.6" y="500.8" width="5" height="37.7" fill="#5e96ca" stroke="#34689a" stroke-width="0.7"/>
<rect x="276.4" y="477" width="5" height="61.5" fill="#d97490" stroke="#a24760" stroke-width="0.7"/>
<line x1="293.8" y1="523" x2="293.8" y2="516" stroke="#444" stroke-width="0.7"/>
<line x1="292.5" y1="516" x2="295.1" y2="516" stroke="#444" stroke-width="0.7"/>
<rect x="291.3" y="523" width="5" height="15.5" fill="#5e96ca" stroke="#34689a" stroke-width="0.7"/>
<rect x="300.1" y="497" width="5" height="41.5" fill="#d97490" stroke="#a24760" stroke-width="0.7"/>
<line x1="317.6" y1="531" x2="317.6" y2="526" stroke="#444" stroke-width="0.7"/>
<line x1="316.3" y1="526" x2="318.9" y2="526" stroke="#444" stroke-width="0.7"/>
<rect x="315.1" y="531" width="5" height="7.5" fill="#5e96ca" stroke="#34689a" stroke-width="0.7"/>
<rect x="323.9" y="493.4" width="5" height="45.1" fill="#d97490" stroke="#a24760" stroke-width="0.7"/>
<line x1="264" y1="539" x2="264" y2="506.8" stroke="#111" stroke-width="1.1"/>
<line x1="264" y1="503.1" x2="264" y2="470.4" stroke="#111" stroke-width="1.1"/>
<line x1="262.2" y1="508" x2="265.8" y2="505.6" stroke="#111" stroke-width="0.9"/>
<line x1="262.2" y1="503.8" x2="265.8" y2="501.4" stroke="#111" stroke-width="0.9"/>
<line x1="263.45" y1="538.5" x2="332" y2="538.5" stroke="#111" stroke-width="1.1"/>
<line x1="261.6" y1="470.6" x2="264" y2="470.6" stroke="#111" stroke-width="0.8"/>
<text x="261" y="472.3" font-size="4.9" text-anchor="end" font-weight="bold" fill="#222">400</text>
<line x1="261.6" y1="478.6" x2="264" y2="478.6" stroke="#111" stroke-width="0.8"/>
<text x="261" y="480.3" font-size="4.9" text-anchor="end" font-weight="bold" fill="#222">300</text>
<line x1="261.6" y1="486.6" x2="264" y2="486.6" stroke="#111" stroke-width="0.8"/>
<text x="261" y="488.3" font-size="4.9" text-anchor="end" font-weight="bold" fill="#222">200</text>
<line x1="261.6" y1="495" x2="264" y2="495" stroke="#111" stroke-width="0.8"/>
<text x="261" y="496.7" font-size="4.9" text-anchor="end" font-weight="bold" fill="#222">100</text>
<line x1="261.6" y1="507.4" x2="264" y2="507.4" stroke="#111" stroke-width="0.8"/>
<text x="261" y="509.1" font-size="4.9" text-anchor="end" font-weight="bold" fill="#222">4</text>
<line x1="261.6" y1="515.2" x2="264" y2="515.2" stroke="#111" stroke-width="0.8"/>
<text x="261" y="516.9" font-size="4.9" text-anchor="end" font-weight="bold" fill="#222">3</text>
<line x1="261.6" y1="523" x2="264" y2="523" stroke="#111" stroke-width="0.8"/>
<text x="261" y="524.7" font-size="4.9" text-anchor="end" font-weight="bold" fill="#222">2</text>
<line x1="261.6" y1="530.8" x2="264" y2="530.8" stroke="#111" stroke-width="0.8"/>
<text x="261" y="532.5" font-size="4.9" text-anchor="end" font-weight="bold" fill="#222">1</text>
<line x1="261.6" y1="538.6" x2="264" y2="538.6" stroke="#111" stroke-width="0.8"/>
<text x="261" y="540.3" font-size="4.9" text-anchor="end" font-weight="bold" fill="#222">0</text>
<line x1="274.5" y1="538.5" x2="274.5" y2="540.5" stroke="#111" stroke-width="0.8"/>
<text x="274.5" y="547.5" font-size="5.4" text-anchor="middle" font-weight="bold" fill="#222">4D</text>
<line x1="298.2" y1="538.5" x2="298.2" y2="540.5" stroke="#111" stroke-width="0.8"/>
<text x="298.2" y="547.5" font-size="5.4" text-anchor="middle" font-weight="bold" fill="#222">8D</text>
<line x1="322" y1="538.5" x2="322" y2="540.5" stroke="#111" stroke-width="0.8"/>
<text x="322" y="547.5" font-size="5.4" text-anchor="middle" font-weight="bold" fill="#222">10D</text>
<text x="409.6" y="461.9" font-size="8.7" text-anchor="middle" font-weight="bold" font-style="italic" fill="#111">PbrDFR6</text>
<text transform="translate(360.5,504.5) rotate(-90)" font-size="6.0" font-weight="bold" text-anchor="middle" fill="#111">Relative expression level</text>
<line x1="386" y1="510" x2="386" y2="507.6" stroke="#444" stroke-width="0.7"/>
<line x1="384.7" y1="507.6" x2="387.3" y2="507.6" stroke="#444" stroke-width="0.7"/>
<rect x="374.7" y="527" width="5" height="11.6" fill="#5e96ca" stroke="#34689a" stroke-width="0.7"/>
<rect x="383.5" y="510" width="5" height="28.6" fill="#d97490" stroke="#a24760" stroke-width="0.7"/>
<line x1="409.8" y1="496" x2="409.8" y2="492.4" stroke="#444" stroke-width="0.7"/>
<line x1="408.5" y1="492.4" x2="411.1" y2="492.4" stroke="#444" stroke-width="0.7"/>
<rect x="398.5" y="527.6" width="5" height="11" fill="#5e96ca" stroke="#34689a" stroke-width="0.7"/>
<rect x="407.3" y="496" width="5" height="42.6" fill="#d97490" stroke="#a24760" stroke-width="0.7"/>
<line x1="425" y1="523" x2="425" y2="521" stroke="#444" stroke-width="0.7"/>
<line x1="423.7" y1="521" x2="426.3" y2="521" stroke="#444" stroke-width="0.7"/>
<line x1="433.8" y1="486" x2="433.8" y2="480.4" stroke="#444" stroke-width="0.7"/>
<line x1="432.5" y1="480.4" x2="435.1" y2="480.4" stroke="#444" stroke-width="0.7"/>
<rect x="422.5" y="523" width="5" height="15.6" fill="#5e96ca" stroke="#34689a" stroke-width="0.7"/>
<rect x="431.3" y="486" width="5" height="52.6" fill="#d97490" stroke="#a24760" stroke-width="0.7"/>
<line x1="371.6" y1="539.1" x2="371.6" y2="470.4" stroke="#111" stroke-width="1.1"/>
<line x1="371.05" y1="538.6" x2="437.2" y2="538.6" stroke="#111" stroke-width="1.1"/>
<line x1="369.2" y1="470.6" x2="371.6" y2="470.6" stroke="#111" stroke-width="0.8"/>
<text transform="translate(364.7,470.6) rotate(-90)" font-size="4.9" font-weight="bold" text-anchor="middle" fill="#222">6</text>
<line x1="369.2" y1="493.4" x2="371.6" y2="493.4" stroke="#111" stroke-width="0.8"/>
<text transform="translate(364.7,493.4) rotate(-90)" font-size="4.9" font-weight="bold" text-anchor="middle" fill="#222">4</text>
<line x1="369.2" y1="516" x2="371.6" y2="516" stroke="#111" stroke-width="0.8"/>
<text transform="translate(364.7,516) rotate(-90)" font-size="4.9" font-weight="bold" text-anchor="middle" fill="#222">2</text>
<line x1="369.2" y1="538.6" x2="371.6" y2="538.6" stroke="#111" stroke-width="0.8"/>
<text transform="translate(364.7,538.6) rotate(-90)" font-size="4.9" font-weight="bold" text-anchor="middle" fill="#222">0</text>
<line x1="381.6" y1="538.6" x2="381.6" y2="540.6" stroke="#111" stroke-width="0.8"/>
<text x="381.6" y="547.6" font-size="5.4" text-anchor="middle" font-weight="bold" fill="#222">4D</text>
<line x1="405.4" y1="538.6" x2="405.4" y2="540.6" stroke="#111" stroke-width="0.8"/>
<text x="405.4" y="547.6" font-size="5.4" text-anchor="middle" font-weight="bold" fill="#222">8D</text>
<line x1="429.4" y1="538.6" x2="429.4" y2="540.6" stroke="#111" stroke-width="0.8"/>
<text x="429.4" y="547.6" font-size="5.4" text-anchor="middle" font-weight="bold" fill="#222">10D</text>
<text x="89.6" y="573.9" font-size="8.7" text-anchor="middle" font-weight="bold" font-style="italic" fill="#111">PbrDFR7</text>
<text transform="translate(35.7,612.6) rotate(-90)" font-size="6.0" font-weight="bold" text-anchor="middle" fill="#111">Relative expression level</text>
<line x1="60.9" y1="618.6" x2="60.9" y2="616" stroke="#444" stroke-width="0.7"/>
<line x1="59.6" y1="616" x2="62.2" y2="616" stroke="#444" stroke-width="0.7"/>
<rect x="49.6" y="635" width="5" height="11.8" fill="#5e96ca" stroke="#34689a" stroke-width="0.7"/>
<rect x="58.4" y="618.6" width="5" height="28.2" fill="#d97490" stroke="#a24760" stroke-width="0.7"/>
<line x1="84.9" y1="598" x2="84.9" y2="596" stroke="#444" stroke-width="0.7"/>
<line x1="83.6" y1="596" x2="86.2" y2="596" stroke="#444" stroke-width="0.7"/>
<rect x="73.6" y="635.6" width="5" height="11.2" fill="#5e96ca" stroke="#34689a" stroke-width="0.7"/>
<rect x="82.4" y="598" width="5" height="48.8" fill="#d97490" stroke="#a24760" stroke-width="0.7"/>
<line x1="100" y1="628" x2="100" y2="626" stroke="#444" stroke-width="0.7"/>
<line x1="98.7" y1="626" x2="101.3" y2="626" stroke="#444" stroke-width="0.7"/>
<rect x="97.5" y="628" width="5" height="18.8" fill="#5e96ca" stroke="#34689a" stroke-width="0.7"/>
<rect x="106.3" y="590.6" width="5" height="56.2" fill="#d97490" stroke="#a24760" stroke-width="0.7"/>
<line x1="46.5" y1="647.5" x2="46.5" y2="578.4" stroke="#111" stroke-width="1.1"/>
<line x1="45.95" y1="646.8" x2="112" y2="646.8" stroke="#111" stroke-width="1.1"/>
<line x1="44.1" y1="578.6" x2="46.5" y2="578.6" stroke="#111" stroke-width="0.8"/>
<text transform="translate(43.9,578.6) rotate(-90)" font-size="4.9" font-weight="bold" text-anchor="middle" fill="#222">6</text>
<line x1="44.1" y1="601.4" x2="46.5" y2="601.4" stroke="#111" stroke-width="0.8"/>
<text transform="translate(43.9,601.4) rotate(-90)" font-size="4.9" font-weight="bold" text-anchor="middle" fill="#222">4</text>
<line x1="44.1" y1="624.4" x2="46.5" y2="624.4" stroke="#111" stroke-width="0.8"/>
<text transform="translate(43.9,624.4) rotate(-90)" font-size="4.9" font-weight="bold" text-anchor="middle" fill="#222">2</text>
<line x1="44.1" y1="647" x2="46.5" y2="647" stroke="#111" stroke-width="0.8"/>
<text transform="translate(43.9,647) rotate(-90)" font-size="4.9" font-weight="bold" text-anchor="middle" fill="#222">0</text>
<line x1="56.5" y1="646.8" x2="56.5" y2="648.8" stroke="#111" stroke-width="0.8"/>
<text x="56.5" y="655.8" font-size="5.4" text-anchor="middle" font-weight="bold" fill="#222">4D</text>
<line x1="80.5" y1="646.8" x2="80.5" y2="648.8" stroke="#111" stroke-width="0.8"/>
<text x="80.5" y="655.8" font-size="5.4" text-anchor="middle" font-weight="bold" fill="#222">8D</text>
<line x1="104.4" y1="646.8" x2="104.4" y2="648.8" stroke="#111" stroke-width="0.8"/>
<text x="104.4" y="655.8" font-size="5.4" text-anchor="middle" font-weight="bold" fill="#222">10D</text>
<text x="196.6" y="574.5" font-size="8.7" text-anchor="middle" font-weight="bold" font-style="italic" fill="#111">PbrANS2</text>
<text transform="translate(141.7,618.5) rotate(-90)" font-size="6.0" font-weight="bold" text-anchor="middle" fill="#111">Relative expression level</text>
<line x1="161.2" y1="648" x2="161.2" y2="646" stroke="#444" stroke-width="0.7"/>
<line x1="159.9" y1="646" x2="162.5" y2="646" stroke="#444" stroke-width="0.7"/>
<rect x="158.7" y="648" width="5" height="4.6" fill="#5e96ca" stroke="#34689a" stroke-width="0.7"/>
<rect x="167.5" y="592" width="5" height="60.6" fill="#d97490" stroke="#a24760" stroke-width="0.7"/>
<line x1="193.4" y1="613" x2="193.4" y2="610" stroke="#444" stroke-width="0.7"/>
<line x1="192.1" y1="610" x2="194.7" y2="610" stroke="#444" stroke-width="0.7"/>
<rect x="182.1" y="649" width="5" height="3.6" fill="#5e96ca" stroke="#34689a" stroke-width="0.7"/>
<rect x="190.9" y="613" width="5" height="39.6" fill="#d97490" stroke="#a24760" stroke-width="0.7"/>
<line x1="217" y1="613.4" x2="217" y2="611.6" stroke="#444" stroke-width="0.7"/>
<line x1="215.7" y1="611.6" x2="218.3" y2="611.6" stroke="#444" stroke-width="0.7"/>
<rect x="205.7" y="649.4" width="5" height="3.2" fill="#5e96ca" stroke="#34689a" stroke-width="0.7"/>
<rect x="214.5" y="613.4" width="5" height="39.2" fill="#d97490" stroke="#a24760" stroke-width="0.7"/>
<line x1="155" y1="653.1" x2="155" y2="584.4" stroke="#111" stroke-width="1.1"/>
<line x1="154.45" y1="652.6" x2="220.2" y2="652.6" stroke="#111" stroke-width="1.1"/>
<line x1="152.6" y1="584.6" x2="155" y2="584.6" stroke="#111" stroke-width="0.8"/>
<text x="152" y="586.3" font-size="4.9" text-anchor="end" font-weight="bold" fill="#222">20</text>
<line x1="152.6" y1="601.4" x2="155" y2="601.4" stroke="#111" stroke-width="0.8"/>
<text x="152" y="603.1" font-size="4.9" text-anchor="end" font-weight="bold" fill="#222">15</text>
<line x1="152.6" y1="618.4" x2="155" y2="618.4" stroke="#111" stroke-width="0.8"/>
<text x="152" y="620.1" font-size="4.9" text-anchor="end" font-weight="bold" fill="#222">10</text>
<line x1="152.6" y1="635.4" x2="155" y2="635.4" stroke="#111" stroke-width="0.8"/>
<text x="152" y="637.1" font-size="4.9" text-anchor="end" font-weight="bold" fill="#222">5</text>
<line x1="152.6" y1="652.6" x2="155" y2="652.6" stroke="#111" stroke-width="0.8"/>
<text x="152" y="654.3" font-size="4.9" text-anchor="end" font-weight="bold" fill="#222">0</text>
<line x1="165.6" y1="652.6" x2="165.6" y2="654.6" stroke="#111" stroke-width="0.8"/>
<text x="165.6" y="661.6" font-size="5.4" text-anchor="middle" font-weight="bold" fill="#222">4D</text>
<line x1="189" y1="652.6" x2="189" y2="654.6" stroke="#111" stroke-width="0.8"/>
<text x="189" y="661.6" font-size="5.4" text-anchor="middle" font-weight="bold" fill="#222">8D</text>
<line x1="212.6" y1="652.6" x2="212.6" y2="654.6" stroke="#111" stroke-width="0.8"/>
<text x="212.6" y="661.6" font-size="5.4" text-anchor="middle" font-weight="bold" fill="#222">10D</text>
<text x="303.6" y="573.9" font-size="8.7" text-anchor="middle" font-weight="bold" font-style="italic" fill="#111">PyUFGT2</text>
<text transform="translate(247.7,618.45) rotate(-90)" font-size="6.0" font-weight="bold" text-anchor="middle" fill="#111">Relative expression level</text>
<line x1="278.6" y1="595" x2="278.6" y2="592.4" stroke="#444" stroke-width="0.7"/>
<line x1="277.3" y1="592.4" x2="279.9" y2="592.4" stroke="#444" stroke-width="0.7"/>
<rect x="267.3" y="613.6" width="5" height="38.9" fill="#5e96ca" stroke="#34689a" stroke-width="0.7"/>
<rect x="276.1" y="595" width="5" height="57.5" fill="#d97490" stroke="#a24760" stroke-width="0.7"/>
<line x1="293.6" y1="632" x2="293.6" y2="626" stroke="#444" stroke-width="0.7"/>
<line x1="292.3" y1="626" x2="294.9" y2="626" stroke="#444" stroke-width="0.7"/>
<line x1="302.4" y1="600" x2="302.4" y2="596.6" stroke="#444" stroke-width="0.7"/>
<line x1="301.1" y1="596.6" x2="303.7" y2="596.6" stroke="#444" stroke-width="0.7"/>
<rect x="291.1" y="632" width="5" height="20.5" fill="#5e96ca" stroke="#34689a" stroke-width="0.7"/>
<rect x="299.9" y="600" width="5" height="52.5" fill="#d97490" stroke="#a24760" stroke-width="0.7"/>
<line x1="325.8" y1="594.4" x2="325.8" y2="591.6" stroke="#444" stroke-width="0.7"/>
<line x1="324.5" y1="591.6" x2="327.1" y2="591.6" stroke="#444" stroke-width="0.7"/>
<rect x="314.5" y="651.6" width="5" height="0.9" fill="#5e96ca" stroke="#34689a" stroke-width="0.7"/>
<rect x="323.3" y="594.4" width="5" height="58.1" fill="#d97490" stroke="#a24760" stroke-width="0.7"/>
<line x1="263.6" y1="653.1" x2="263.6" y2="618.4" stroke="#111" stroke-width="1.1"/>
<line x1="263.6" y1="614.7" x2="263.6" y2="584.4" stroke="#111" stroke-width="1.1"/>
<line x1="261.8" y1="619.6" x2="265.4" y2="617.2" stroke="#111" stroke-width="0.9"/>
<line x1="261.8" y1="615.4" x2="265.4" y2="613" stroke="#111" stroke-width="0.9"/>
<line x1="263.05" y1="652.5" x2="330" y2="652.5" stroke="#111" stroke-width="1.1"/>
<line x1="261.2" y1="584.6" x2="263.6" y2="584.6" stroke="#111" stroke-width="0.8"/>
<text x="260.6" y="586.3" font-size="4.9" text-anchor="end" font-weight="bold" fill="#222">800</text>
<line x1="261.2" y1="592.4" x2="263.6" y2="592.4" stroke="#111" stroke-width="0.8"/>
<text x="260.6" y="594.1" font-size="4.9" text-anchor="end" font-weight="bold" fill="#222">600</text>
<line x1="261.2" y1="600.2" x2="263.6" y2="600.2" stroke="#111" stroke-width="0.8"/>
<text x="260.6" y="601.9" font-size="4.9" text-anchor="end" font-weight="bold" fill="#222">400</text>
<line x1="261.2" y1="608" x2="263.6" y2="608" stroke="#111" stroke-width="0.8"/>
<text x="260.6" y="609.7" font-size="4.9" text-anchor="end" font-weight="bold" fill="#222">200</text>
<line x1="261.2" y1="620" x2="263.6" y2="620" stroke="#111" stroke-width="0.8"/>
<text x="260.6" y="621.7" font-size="4.9" text-anchor="end" font-weight="bold" fill="#222">2.5</text>
<line x1="261.2" y1="626.4" x2="263.6" y2="626.4" stroke="#111" stroke-width="0.8"/>
<text x="260.6" y="628.1" font-size="4.9" text-anchor="end" font-weight="bold" fill="#222">2.0</text>
<line x1="261.2" y1="633" x2="263.6" y2="633" stroke="#111" stroke-width="0.8"/>
<text x="260.6" y="634.7" font-size="4.9" text-anchor="end" font-weight="bold" fill="#222">1.5</text>
<line x1="261.2" y1="639.6" x2="263.6" y2="639.6" stroke="#111" stroke-width="0.8"/>
<text x="260.6" y="641.3" font-size="4.9" text-anchor="end" font-weight="bold" fill="#222">1.0</text>
<line x1="261.2" y1="646" x2="263.6" y2="646" stroke="#111" stroke-width="0.8"/>
<text x="260.6" y="647.7" font-size="4.9" text-anchor="end" font-weight="bold" fill="#222">0.5</text>
<line x1="261.2" y1="652.6" x2="263.6" y2="652.6" stroke="#111" stroke-width="0.8"/>
<text x="260.6" y="654.3" font-size="4.9" text-anchor="end" font-weight="bold" fill="#222">0.0</text>
<line x1="274.2" y1="652.5" x2="274.2" y2="654.5" stroke="#111" stroke-width="0.8"/>
<text x="274.2" y="661.5" font-size="5.4" text-anchor="middle" font-weight="bold" fill="#222">4D</text>
<line x1="298" y1="652.5" x2="298" y2="654.5" stroke="#111" stroke-width="0.8"/>
<text x="298" y="661.5" font-size="5.4" text-anchor="middle" font-weight="bold" fill="#222">8D</text>
<line x1="321.4" y1="652.5" x2="321.4" y2="654.5" stroke="#111" stroke-width="0.8"/>
<text x="321.4" y="661.5" font-size="5.4" text-anchor="middle" font-weight="bold" fill="#222">10D</text>
<text x="410.6" y="573.9" font-size="8.7" text-anchor="middle" font-weight="bold" font-style="italic" fill="#111">PbrUFGT4</text>
<text transform="translate(355.7,618.4) rotate(-90)" font-size="6.0" font-weight="bold" text-anchor="middle" fill="#111">Relative expression level</text>
<line x1="377.2" y1="629.8" x2="377.2" y2="628.2" stroke="#444" stroke-width="0.7"/>
<line x1="375.9" y1="628.2" x2="378.5" y2="628.2" stroke="#444" stroke-width="0.7"/>
<rect x="374.7" y="629.8" width="5" height="22.9" fill="#5e96ca" stroke="#34689a" stroke-width="0.7"/>
<rect x="383.5" y="610.3" width="5" height="42.4" fill="#d97490" stroke="#a24760" stroke-width="0.7"/>
<line x1="401" y1="645" x2="401" y2="644.4" stroke="#444" stroke-width="0.7"/>
<line x1="399.7" y1="644.4" x2="402.3" y2="644.4" stroke="#444" stroke-width="0.7"/>
<line x1="409.8" y1="609.4" x2="409.8" y2="604" stroke="#444" stroke-width="0.7"/>
<line x1="408.5" y1="604" x2="411.1" y2="604" stroke="#444" stroke-width="0.7"/>
<rect x="398.5" y="645" width="5" height="7.7" fill="#5e96ca" stroke="#34689a" stroke-width="0.7"/>
<rect x="407.3" y="609.4" width="5" height="43.3" fill="#d97490" stroke="#a24760" stroke-width="0.7"/>
<line x1="433.8" y1="596.6" x2="433.8" y2="595" stroke="#444" stroke-width="0.7"/>
<line x1="432.5" y1="595" x2="435.1" y2="595" stroke="#444" stroke-width="0.7"/>
<rect x="422.5" y="649.6" width="5" height="3.1" fill="#5e96ca" stroke="#34689a" stroke-width="0.7"/>
<rect x="431.3" y="596.6" width="5" height="56.1" fill="#d97490" stroke="#a24760" stroke-width="0.7"/>
<line x1="371.4" y1="653.2" x2="371.4" y2="619.6" stroke="#111" stroke-width="1.1"/>
<line x1="371.4" y1="616.9" x2="371.4" y2="584.1" stroke="#111" stroke-width="1.1"/>
<line x1="369.6" y1="620.8" x2="373.2" y2="618.4" stroke="#111" stroke-width="0.9"/>
<line x1="369.6" y1="617.6" x2="373.2" y2="615.2" stroke="#111" stroke-width="0.9"/>
<line x1="370.85" y1="652.7" x2="437.2" y2="652.7" stroke="#111" stroke-width="1.1"/>
<line x1="369" y1="584.3" x2="371.4" y2="584.3" stroke="#111" stroke-width="0.8"/>
<text x="368.4" y="586" font-size="4.9" text-anchor="end" font-weight="bold" fill="#222">200</text>
<line x1="369" y1="594.5" x2="371.4" y2="594.5" stroke="#111" stroke-width="0.8"/>
<text x="368.4" y="596.2" font-size="4.9" text-anchor="end" font-weight="bold" fill="#222">150</text>
<line x1="369" y1="605.3" x2="371.4" y2="605.3" stroke="#111" stroke-width="0.8"/>
<text x="368.4" y="607" font-size="4.9" text-anchor="end" font-weight="bold" fill="#222">100</text>
<line x1="369" y1="616" x2="371.4" y2="616" stroke="#111" stroke-width="0.8"/>
<text x="368.4" y="617.7" font-size="4.9" text-anchor="end" font-weight="bold" fill="#222">50</text>
<line x1="369" y1="620.8" x2="371.4" y2="620.8" stroke="#111" stroke-width="0.8"/>
<text x="368.4" y="622.5" font-size="4.9" text-anchor="end" font-weight="bold" fill="#222">10</text>
<line x1="369" y1="627.3" x2="371.4" y2="627.3" stroke="#111" stroke-width="0.8"/>
<text x="368.4" y="629" font-size="4.9" text-anchor="end" font-weight="bold" fill="#222">8</text>
<line x1="369" y1="633.4" x2="371.4" y2="633.4" stroke="#111" stroke-width="0.8"/>
<text x="368.4" y="635.1" font-size="4.9" text-anchor="end" font-weight="bold" fill="#222">6</text>
<line x1="369" y1="639.7" x2="371.4" y2="639.7" stroke="#111" stroke-width="0.8"/>
<text x="368.4" y="641.4" font-size="4.9" text-anchor="end" font-weight="bold" fill="#222">4</text>
<line x1="369" y1="646.4" x2="371.4" y2="646.4" stroke="#111" stroke-width="0.8"/>
<text x="368.4" y="648.1" font-size="4.9" text-anchor="end" font-weight="bold" fill="#222">2</text>
<line x1="369" y1="652.7" x2="371.4" y2="652.7" stroke="#111" stroke-width="0.8"/>
<text x="368.4" y="654.4" font-size="4.9" text-anchor="end" font-weight="bold" fill="#222">0</text>
<line x1="381.6" y1="652.7" x2="381.6" y2="654.7" stroke="#111" stroke-width="0.8"/>
<text x="381.6" y="661.7" font-size="5.4" text-anchor="middle" font-weight="bold" fill="#222">4D</text>
<line x1="405.4" y1="652.7" x2="405.4" y2="654.7" stroke="#111" stroke-width="0.8"/>
<text x="405.4" y="661.7" font-size="5.4" text-anchor="middle" font-weight="bold" fill="#222">8D</text>
<line x1="429.4" y1="652.7" x2="429.4" y2="654.7" stroke="#111" stroke-width="0.8"/>
<text x="429.4" y="661.7" font-size="5.4" text-anchor="middle" font-weight="bold" fill="#222">10D</text>
<rect x="465.2" y="384.3" width="11.2" height="10.2" fill="#4f8cc2"/>
<rect x="465.2" y="400.6" width="11.2" height="10.2" fill="#d26a83"/>
<text x="484.2" y="391.8" font-size="7.9" fill="#222" stroke="#222" stroke-width="0.2">Bagging</text>
<text x="484.2" y="408.2" font-size="7.9" fill="#222" stroke="#222" stroke-width="0.2">Debagging</text>
<line x1="22.9" y1="669.6" x2="523" y2="669.6" stroke="#8a8a8a" stroke-width="1"/>
<text x="13.7" y="686.1" font-size="9.8" font-weight="bold" fill="#111">C</text>
<rect x="34.4" y="689.2" width="30.58" height="31" fill="#e05e7a" stroke="#8a8a8a" stroke-width="0.7"/>
<text x="49.69" y="708.1" font-size="10" text-anchor="middle" fill="#1a1a1a" stroke="#1a1a1a" stroke-width="0.2">0.94</text>
<rect x="64.98" y="689.2" width="30.58" height="31" fill="#e05e7a" stroke="#8a8a8a" stroke-width="0.7"/>
<text x="80.28" y="708.1" font-size="10" text-anchor="middle" fill="#1a1a1a" stroke="#1a1a1a" stroke-width="0.2">0.94</text>
<rect x="95.57" y="689.2" width="30.58" height="31" fill="#f095a9" stroke="#8a8a8a" stroke-width="0.7"/>
<text x="110.86" y="708.1" font-size="10" text-anchor="middle" fill="#1a1a1a" stroke="#1a1a1a" stroke-width="0.2">0.85</text>
<rect x="126.15" y="689.2" width="30.58" height="31" fill="#e7778f" stroke="#8a8a8a" stroke-width="0.7"/>
<text x="141.44" y="708.1" font-size="10" text-anchor="middle" fill="#1a1a1a" stroke="#1a1a1a" stroke-width="0.2">0.90</text>
<rect x="156.73" y="689.2" width="30.58" height="31" fill="#e46a84" stroke="#8a8a8a" stroke-width="0.7"/>
<text x="172.02" y="708.1" font-size="10" text-anchor="middle" fill="#1a1a1a" stroke="#1a1a1a" stroke-width="0.2">0.92</text>
<rect x="187.32" y="689.2" width="30.58" height="31" fill="#e46a84" stroke="#8a8a8a" stroke-width="0.7"/>
<text x="202.61" y="708.1" font-size="10" text-anchor="middle" fill="#1a1a1a" stroke="#1a1a1a" stroke-width="0.2">0.92</text>
<rect x="217.9" y="689.2" width="30.58" height="31" fill="#d8405f" stroke="#8a8a8a" stroke-width="0.7"/>
<text x="233.19" y="708.1" font-size="10" text-anchor="middle" fill="#1a1a1a" stroke="#1a1a1a" stroke-width="0.2">0.99</text>
<rect x="248.48" y="689.2" width="30.58" height="31" fill="#e67089" stroke="#8a8a8a" stroke-width="0.7"/>
<text x="263.77" y="708.1" font-size="10" text-anchor="middle" fill="#1a1a1a" stroke="#1a1a1a" stroke-width="0.2">0.91</text>
<rect x="279.07" y="689.2" width="30.58" height="31" fill="#db4c6a" stroke="#8a8a8a" stroke-width="0.7"/>
<text x="294.36" y="708.1" font-size="10" text-anchor="middle" fill="#1a1a1a" stroke="#1a1a1a" stroke-width="0.2">0.97</text>
<rect x="309.65" y="689.2" width="30.58" height="31" fill="#dd526f" stroke="#8a8a8a" stroke-width="0.7"/>
<text x="324.94" y="708.1" font-size="10" text-anchor="middle" fill="#1a1a1a" stroke="#1a1a1a" stroke-width="0.2">0.96</text>
<rect x="340.23" y="689.2" width="30.58" height="31" fill="#db4c6a" stroke="#8a8a8a" stroke-width="0.7"/>
<text x="355.52" y="708.1" font-size="10" text-anchor="middle" fill="#1a1a1a" stroke="#1a1a1a" stroke-width="0.2">0.97</text>
<rect x="370.82" y="689.2" width="30.58" height="31" fill="#df5874" stroke="#8a8a8a" stroke-width="0.7"/>
<text x="386.11" y="708.1" font-size="10" text-anchor="middle" fill="#1a1a1a" stroke="#1a1a1a" stroke-width="0.2">0.95</text>
<text x="403.8" y="708.2" font-size="10.1" fill="#222" stroke="#222" stroke-width="0.2">qRT-PCR</text>
<text transform="translate(42,727) rotate(62)" font-size="8.7" fill="#222" stroke="#222" stroke-width="0.18">PbrUFGT4</text>
<text transform="translate(72.58,727) rotate(62)" font-size="8.7" fill="#222" stroke="#222" stroke-width="0.18">PbrUFGT2</text>
<text transform="translate(103.17,727) rotate(62)" font-size="8.7" fill="#222" stroke="#222" stroke-width="0.18">PbrDFR7</text>
<text transform="translate(133.75,727) rotate(62)" font-size="8.7" fill="#222" stroke="#222" stroke-width="0.18">PbrDFR6</text>
<text transform="translate(164.33,727) rotate(62)" font-size="8.7" fill="#222" stroke="#222" stroke-width="0.18">PbrANS2</text>
<text transform="translate(194.92,727) rotate(62)" font-size="8.7" fill="#222" stroke="#222" stroke-width="0.18">PbrF3H4</text>
<text transform="translate(225.5,727) rotate(62)" font-size="8.7" fill="#222" stroke="#222" stroke-width="0.18">PbrFLS2</text>
<text transform="translate(256.08,727) rotate(62)" font-size="8.7" fill="#222" stroke="#222" stroke-width="0.18">PbrCHI8</text>
<text transform="translate(286.67,727) rotate(62)" font-size="8.7" fill="#222" stroke="#222" stroke-width="0.18">PbrCHS2</text>
<text transform="translate(317.25,727) rotate(62)" font-size="8.7" fill="#222" stroke="#222" stroke-width="0.18">PbrCHS1</text>
<text transform="translate(347.83,727) rotate(62)" font-size="8.7" fill="#222" stroke="#222" stroke-width="0.18">Pbr4CL5</text>
<text transform="translate(378.42,727) rotate(62)" font-size="8.7" fill="#222" stroke="#222" stroke-width="0.18">PbrPAL2</text>
<rect x="45.4" y="766" width="366.8" height="7.9" fill="#4db38e"/>
<text x="231.6" y="789.3" font-size="9.4" text-anchor="middle" fill="#222" stroke="#222" stroke-width="0.2">RPKM</text>
<rect x="483.3" y="681" width="7.8" height="113.7" fill="url(#cbC)"/>
<text x="494.6" y="684.2" font-size="6.4" fill="#222" stroke="#222" stroke-width="0.2">1.00</text>
<text x="494.6" y="712.4" font-size="6.4" fill="#222" stroke="#222" stroke-width="0.2">0.95</text>
<text x="494.6" y="745.4" font-size="6.4" fill="#222" stroke="#222" stroke-width="0.2">0.9</text>
<text x="494.6" y="778.4" font-size="6.4" fill="#222" stroke="#222" stroke-width="0.2">0.85</text>
<text transform="translate(477.8,737.2) rotate(-90)" font-size="8.0" text-anchor="middle" fill="#222" stroke="#222" stroke-width="0.15">Pearson Correlation Coefficient</text>
</svg>
</body></html>
